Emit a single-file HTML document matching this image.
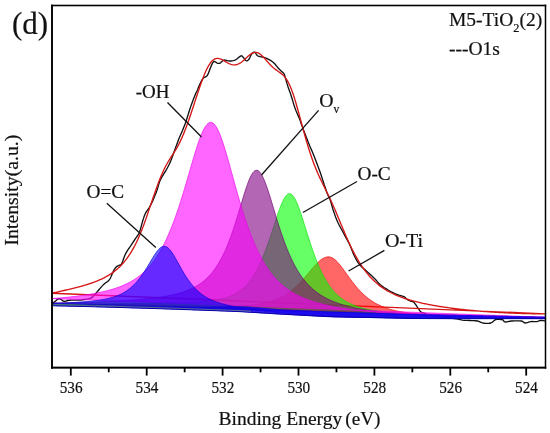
<!DOCTYPE html>
<html><head><meta charset="utf-8"><title>XPS O1s</title>
<style>html,body{margin:0;padding:0;background:#fff}body{width:550px;height:433px;position:relative;overflow:hidden;font-family:"Liberation Serif",serif}</style>
</head><body>
<svg width="550" height="433" viewBox="0 0 550 433" style="position:absolute;left:0;top:0">
<defs><clipPath id="cp"><rect x="52.0" y="5.3" width="493.4" height="362.3"/></clipPath></defs>
<g clip-path="url(#cp)" fill="none" stroke-linejoin="round">
<path d="M51.9,303.90 L52.5,303.45 L53.3,302.81 L54.2,302.08 L55.1,301.40 L55.9,300.71 L56.7,299.97 L57.5,299.32 L58.3,298.90 L59.0,298.76 L59.5,298.82 L60.1,299.02 L60.8,299.30 L61.5,299.75 L62.3,300.38 L63.1,300.96 L64.0,301.30 L64.9,301.29 L65.8,301.05 L66.7,300.74 L67.8,300.50 L69.0,300.36 L70.2,300.25 L71.5,300.16 L72.9,300.10 L74.4,300.09 L76.0,300.12 L77.7,300.15 L79.3,300.10 L80.9,299.96 L82.5,299.77 L84.1,299.54 L85.6,299.30 L87.0,299.10 L88.3,298.90 L89.5,298.63 L90.7,298.20 L91.8,297.56 L92.7,296.77 L93.6,295.89 L94.5,295.00 L95.3,294.09 L96.1,293.14 L96.9,292.16 L97.7,291.20 L98.5,290.25 L99.3,289.31 L100.1,288.36 L100.9,287.40 L101.8,286.40 L102.8,285.38 L103.7,284.39 L104.7,283.50 L105.7,282.78 L106.7,282.18 L107.6,281.56 L108.5,280.80 L109.2,279.87 L109.9,278.84 L110.5,277.71 L111.1,276.50 L111.7,275.13 L112.3,273.62 L113.0,272.12 L113.6,270.80 L114.2,269.67 L114.9,268.66 L115.5,267.76 L116.2,267.00 L117.0,266.40 L117.8,265.95 L118.7,265.57 L119.4,265.20 L120.0,265.04 L120.4,265.04 L120.9,264.78 L121.6,263.80 L122.5,261.70 L123.6,258.83 L124.7,255.81 L125.8,253.30 L126.8,251.55 L127.7,250.18 L128.6,248.92 L129.6,247.50 L130.7,245.83 L131.8,244.07 L133.0,242.27 L134.2,240.50 L135.4,238.69 L136.7,236.84 L137.9,235.09 L138.8,233.60 L139.3,232.61 L139.6,231.98 L139.8,231.26 L140.2,230.00 L140.8,227.93 L141.5,225.34 L142.2,222.63 L142.9,220.20 L143.6,218.14 L144.2,216.23 L144.9,214.46 L145.7,212.80 L146.6,211.34 L147.5,210.05 L148.5,208.76 L149.4,207.30 L150.3,205.63 L151.2,203.83 L152.2,201.92 L153.1,199.90 L154.0,197.77 L154.9,195.53 L155.9,193.18 L156.8,190.70 L157.7,188.02 L158.5,185.16 L159.4,182.29 L160.5,179.60 L161.8,177.15 L163.2,174.83 L164.6,172.58 L166.0,170.30 L167.3,168.00 L168.5,165.72 L169.6,163.43 L170.7,161.10 L171.6,158.81 L172.4,156.55 L173.3,154.16 L174.2,151.50 L175.3,148.38 L176.6,144.94 L177.9,141.47 L179.1,138.30 L180.3,135.51 L181.4,132.93 L182.5,130.49 L183.5,128.10 L184.4,125.81 L185.2,123.65 L185.9,121.49 L186.7,119.20 L187.5,116.71 L188.3,114.10 L189.1,111.49 L189.9,109.00 L190.7,106.62 L191.6,104.29 L192.4,102.10 L193.1,100.10 L193.8,98.31 L194.4,96.69 L195.0,95.26 L195.5,94.00 L195.9,93.10 L196.2,92.49 L196.6,91.84 L197.1,90.80 L197.8,89.15 L198.6,87.12 L199.5,85.03 L200.3,83.20 L201.1,81.67 L201.8,80.29 L202.6,79.09 L203.4,78.10 L204.2,77.43 L205.1,77.03 L205.9,76.69 L206.6,76.20 L207.2,75.54 L207.6,74.80 L208.1,73.96 L208.5,73.00 L209.0,71.84 L209.4,70.53 L209.9,69.18 L210.4,67.90 L210.9,66.67 L211.4,65.45 L211.9,64.33 L212.4,63.40 L212.9,62.67 L213.3,62.09 L213.8,61.69 L214.3,61.50 L214.9,61.62 L215.5,61.99 L216.2,62.45 L216.8,62.80 L217.4,63.06 L218.1,63.30 L218.8,63.44 L219.4,63.40 L220.0,63.09 L220.7,62.58 L221.3,62.01 L221.9,61.50 L222.5,61.04 L223.1,60.58 L223.7,60.20 L224.4,60.00 L225.3,60.08 L226.3,60.36 L227.3,60.68 L228.3,60.90 L229.3,60.99 L230.2,61.04 L231.2,61.01 L232.1,60.90 L233.1,60.69 L234.0,60.41 L235.0,60.04 L235.9,59.60 L236.8,59.03 L237.6,58.35 L238.4,57.67 L239.1,57.10 L239.8,56.62 L240.5,56.17 L241.1,55.87 L241.7,55.80 L242.2,56.04 L242.7,56.51 L243.1,57.11 L243.6,57.70 L244.1,58.33 L244.6,59.04 L245.0,59.70 L245.5,60.20 L246.0,60.53 L246.4,60.74 L246.9,60.81 L247.4,60.70 L247.9,60.38 L248.4,59.88 L248.9,59.23 L249.4,58.50 L249.9,57.61 L250.3,56.56 L250.8,55.50 L251.3,54.60 L251.8,53.85 L252.4,53.18 L253.0,52.65 L253.5,52.30 L254.0,52.15 L254.4,52.18 L254.9,52.37 L255.3,52.70 L255.8,53.27 L256.2,54.06 L256.7,54.87 L257.2,55.50 L257.8,55.88 L258.4,56.13 L259.0,56.31 L259.7,56.50 L260.4,56.68 L261.2,56.84 L262.0,57.00 L262.9,57.20 L263.8,57.45 L264.8,57.72 L265.7,58.03 L266.7,58.40 L267.6,58.82 L268.6,59.28 L269.5,59.80 L270.5,60.40 L271.5,61.06 L272.4,61.79 L273.4,62.60 L274.4,63.50 L275.4,64.56 L276.3,65.74 L277.3,66.93 L278.2,68.00 L279.1,68.91 L279.9,69.72 L280.7,70.48 L281.4,71.20 L282.1,71.83 L282.8,72.37 L283.4,72.95 L283.9,73.70 L284.4,74.66 L284.8,75.75 L285.1,76.94 L285.5,78.20 L285.9,79.54 L286.3,80.98 L286.7,82.45 L287.1,83.90 L287.6,85.33 L288.0,86.77 L288.5,88.20 L289.0,89.60 L289.4,90.79 L289.8,91.84 L290.3,93.12 L290.9,95.00 L291.8,97.76 L292.8,101.14 L293.9,104.71 L295.0,108.00 L296.1,110.91 L297.3,113.68 L298.5,116.38 L299.6,119.10 L300.6,121.79 L301.5,124.44 L302.5,127.14 L303.5,130.00 L304.7,133.08 L305.9,136.32 L307.2,139.62 L308.5,142.90 L309.8,146.10 L311.2,149.28 L312.6,152.52 L314.0,155.90 L315.4,159.56 L316.9,163.42 L318.3,167.22 L319.6,170.70 L320.7,173.74 L321.6,176.49 L322.4,179.12 L323.3,181.80 L324.2,184.65 L325.2,187.54 L326.1,190.32 L327.0,192.80 L327.8,194.78 L328.6,196.39 L329.4,198.01 L330.2,200.00 L331.0,202.50 L331.8,205.31 L332.6,208.23 L333.5,211.10 L334.5,213.88 L335.5,216.65 L336.6,219.42 L337.8,222.20 L339.1,224.97 L340.6,227.75 L342.1,230.53 L343.6,233.30 L345.1,236.08 L346.7,238.85 L348.2,241.63 L349.6,244.40 L350.8,247.22 L351.9,250.07 L353.0,252.86 L354.2,255.50 L355.4,257.97 L356.7,260.31 L358.1,262.55 L359.7,264.70 L361.6,266.74 L363.7,268.68 L365.9,270.55 L368.0,272.40 L370.0,274.27 L372.0,276.12 L373.9,277.89 L375.5,279.50 L376.7,280.88 L377.7,282.08 L378.7,283.24 L380.0,284.50 L381.8,285.93 L384.0,287.45 L386.3,288.94 L388.5,290.30 L390.7,291.51 L392.9,292.63 L395.0,293.64 L397.0,294.50 L398.9,295.17 L400.8,295.66 L402.4,296.10 L403.8,296.60 L404.8,297.19 L405.4,297.80 L405.9,298.41 L406.6,299.00 L407.5,299.57 L408.5,300.13 L409.5,300.65 L410.5,301.10 L411.4,301.36 L412.2,301.48 L413.0,301.69 L413.8,302.20 L414.6,303.15 L415.5,304.39 L416.4,305.73 L417.2,307.00 L418.0,308.21 L418.9,309.44 L419.7,310.58 L420.5,311.50 L421.3,312.11 L422.0,312.51 L422.8,312.82 L423.8,313.20 L425.1,313.69 L426.5,314.21 L428.1,314.72 L430.0,315.20 L432.2,315.64 L434.8,316.05 L437.4,316.44 L440.0,316.80 L442.5,317.13 L445.1,317.44 L447.6,317.72 L450.0,318.00 L452.2,318.26 L454.3,318.50 L456.3,318.74 L458.0,319.00 L459.3,319.31 L460.3,319.64 L461.3,319.96 L462.5,320.20 L464.1,320.33 L466.0,320.39 L467.9,320.43 L469.8,320.50 L471.7,320.58 L473.7,320.64 L475.6,320.76 L477.4,321.00 L478.9,321.44 L480.3,322.03 L481.7,322.61 L483.2,323.00 L485.0,323.22 L487.1,323.33 L489.1,323.28 L490.8,323.00 L492.2,322.33 L493.3,321.35 L494.3,320.37 L495.6,319.70 L497.2,319.41 L499.1,319.35 L500.9,319.46 L502.3,319.70 L503.2,320.19 L503.7,320.91 L504.2,321.60 L505.1,322.00 L506.4,321.96 L508.0,321.64 L509.8,321.26 L511.8,321.00 L514.1,320.88 L516.7,320.81 L519.3,320.84 L521.3,321.00 L522.6,321.44 L523.5,322.09 L524.2,322.69 L525.2,323.00 L526.5,322.86 L527.9,322.43 L529.4,321.93 L530.9,321.60 L532.4,321.53 L533.9,321.58 L535.3,321.64 L536.6,321.60 L537.7,321.36 L538.5,321.02 L539.4,320.69 L540.4,320.50 L541.7,320.52 L543.1,320.68 L544.5,320.87 L545.4,321.00" stroke="#111" stroke-width="1.35"/>
<path d="M52.0,293.21 L53.0,292.98 L54.0,292.75 L55.0,292.53 L56.0,292.30 L57.0,292.07 L58.0,291.85 L59.0,291.62 L60.0,291.40 L61.0,291.17 L62.0,290.95 L63.0,290.72 L64.0,290.49 L65.0,290.26 L66.0,290.03 L67.0,289.80 L68.0,289.57 L69.0,289.34 L70.0,289.10 L71.0,288.87 L72.0,288.63 L73.0,288.38 L74.0,288.14 L75.0,287.89 L76.0,287.64 L77.0,287.38 L78.0,287.12 L79.0,286.86 L80.0,286.59 L81.0,286.32 L82.0,286.04 L83.0,285.76 L84.0,285.47 L85.0,285.17 L86.0,284.87 L87.0,284.56 L88.0,284.25 L89.0,283.93 L90.0,283.59 L91.0,283.26 L92.0,282.91 L93.0,282.55 L94.0,282.18 L95.0,281.81 L96.0,281.42 L97.0,281.02 L98.0,280.61 L99.0,280.18 L100.0,279.74 L101.0,279.29 L102.0,278.82 L103.0,278.34 L104.0,277.83 L105.0,277.31 L106.0,276.77 L107.0,276.21 L108.0,275.63 L109.0,275.03 L110.0,274.40 L111.0,273.75 L112.0,273.07 L113.0,272.36 L114.0,271.62 L115.0,270.85 L116.0,270.04 L117.0,269.20 L118.0,268.32 L119.0,267.40 L120.0,266.44 L121.0,265.43 L122.0,264.38 L123.0,263.28 L124.0,262.12 L125.0,260.91 L126.0,259.65 L127.0,258.32 L128.0,256.93 L129.0,255.48 L130.0,253.96 L131.0,252.37 L132.0,250.70 L133.0,248.96 L134.0,247.14 L135.0,245.24 L136.0,243.25 L137.0,241.18 L138.0,239.02 L139.0,236.77 L140.0,234.43 L141.0,232.00 L142.0,229.48 L143.0,226.87 L144.0,224.19 L145.0,221.43 L146.0,218.61 L147.0,215.73 L148.0,212.82 L149.0,209.86 L150.0,206.89 L151.0,203.92 L152.0,200.95 L153.0,198.02 L154.0,195.11 L155.0,192.25 L156.0,189.44 L157.0,186.67 L158.0,183.96 L159.0,181.32 L160.0,178.75 L161.0,176.28 L162.0,173.91 L163.0,171.65 L164.0,169.50 L165.0,167.46 L166.0,165.54 L167.0,163.73 L168.0,162.02 L169.0,160.38 L170.0,158.79 L171.0,157.24 L172.0,155.71 L173.0,154.17 L174.0,152.61 L175.0,151.00 L176.0,149.35 L177.0,147.62 L178.0,145.81 L179.0,143.91 L180.0,141.91 L181.0,139.81 L182.0,137.60 L183.0,135.29 L184.0,132.87 L185.0,130.35 L186.0,127.73 L187.0,125.03 L188.0,122.26 L189.0,119.41 L190.0,116.50 L191.0,113.55 L192.0,110.55 L193.0,107.51 L194.0,104.46 L195.0,101.38 L196.0,98.31 L197.0,95.25 L198.0,92.22 L199.0,89.23 L200.0,86.30 L201.0,83.44 L202.0,80.66 L203.0,77.99 L204.0,75.44 L205.0,73.03 L206.0,70.77 L207.0,68.68 L208.0,66.77 L209.0,65.05 L210.0,63.52 L211.0,62.19 L212.0,61.07 L213.0,60.16 L214.0,59.44 L215.0,58.93 L216.0,58.59 L217.0,58.43 L218.0,58.43 L219.0,58.57 L220.0,58.83 L221.0,59.20 L222.0,59.65 L223.0,60.17 L224.0,60.73 L225.0,61.32 L226.0,61.91 L227.0,62.49 L228.0,63.04 L229.0,63.54 L230.0,63.98 L231.0,64.34 L232.0,64.62 L233.0,64.81 L234.0,64.89 L235.0,64.86 L236.0,64.73 L237.0,64.48 L238.0,64.13 L239.0,63.68 L240.0,63.12 L241.0,62.47 L242.0,61.74 L243.0,60.93 L244.0,60.06 L245.0,59.14 L246.0,58.20 L247.0,57.26 L248.0,56.34 L249.0,55.46 L250.0,54.65 L251.0,53.94 L252.0,53.34 L253.0,52.87 L254.0,52.55 L255.0,52.39 L256.0,52.40 L257.0,52.59 L258.0,52.93 L259.0,53.42 L260.0,54.05 L261.0,54.80 L262.0,55.68 L263.0,56.64 L264.0,57.69 L265.0,58.79 L266.0,59.93 L267.0,61.09 L268.0,62.24 L269.0,63.37 L270.0,64.46 L271.0,65.51 L272.0,66.49 L273.0,67.42 L274.0,68.28 L275.0,69.09 L276.0,69.84 L277.0,70.56 L278.0,71.25 L279.0,71.94 L280.0,72.64 L281.0,73.39 L282.0,74.21 L283.0,75.11 L284.0,76.13 L285.0,77.29 L286.0,78.62 L287.0,80.13 L288.0,81.85 L289.0,83.78 L290.0,85.94 L291.0,88.32 L292.0,90.92 L293.0,93.73 L294.0,96.73 L295.0,99.91 L296.0,103.24 L297.0,106.70 L298.0,110.26 L299.0,113.90 L300.0,117.59 L301.0,121.31 L302.0,125.03 L303.0,128.72 L304.0,132.37 L305.0,135.96 L306.0,139.47 L307.0,142.90 L308.0,146.23 L309.0,149.46 L310.0,152.57 L311.0,155.58 L312.0,158.47 L313.0,161.25 L314.0,163.93 L315.0,166.50 L316.0,168.98 L317.0,171.37 L318.0,173.69 L319.0,175.93 L320.0,178.11 L321.0,180.24 L322.0,182.32 L323.0,184.38 L324.0,186.42 L325.0,188.44 L326.0,190.46 L327.0,192.48 L328.0,194.52 L329.0,196.57 L330.0,198.65 L331.0,200.79 L332.0,202.97 L333.0,205.20 L334.0,207.47 L335.0,209.78 L336.0,212.13 L337.0,214.51 L338.0,216.90 L339.0,219.31 L340.0,221.73 L341.0,224.15 L342.0,226.56 L343.0,228.95 L344.0,231.32 L345.0,233.67 L346.0,235.98 L347.0,238.26 L348.0,240.50 L349.0,242.69 L350.0,244.83 L351.0,246.92 L352.0,248.97 L353.0,250.96 L354.0,252.89 L355.0,254.77 L356.0,256.60 L357.0,258.37 L358.0,260.08 L359.0,261.75 L360.0,263.35 L361.0,264.91 L362.0,266.41 L363.0,267.86 L364.0,269.26 L365.0,270.62 L366.0,271.92 L367.0,273.18 L368.0,274.39 L369.0,275.56 L370.0,276.69 L371.0,277.77 L372.0,278.82 L373.0,279.82 L374.0,280.79 L375.0,281.73 L376.0,282.62 L377.0,283.49 L378.0,284.32 L379.0,285.12 L380.0,285.90 L381.0,286.64 L382.0,287.36 L383.0,288.05 L384.0,288.71 L385.0,289.35 L386.0,289.97 L387.0,290.57 L388.0,291.14 L389.0,291.70 L390.0,292.23 L391.0,292.75 L392.0,293.25 L393.0,293.74 L394.0,294.20 L395.0,294.66 L396.0,295.10 L397.0,295.52 L398.0,295.93 L399.0,296.33 L400.0,296.72 L401.0,297.10 L402.0,297.46 L403.0,297.82 L404.0,298.16 L405.0,298.50 L406.0,298.83 L407.0,299.14 L408.0,299.45 L409.0,299.76 L410.0,300.05 L411.0,300.34 L412.0,300.62 L413.0,300.89 L414.0,301.16 L415.0,301.42 L416.0,301.68 L417.0,301.93 L418.0,302.17 L419.0,302.41 L420.0,302.65 L421.0,302.88 L422.0,303.10 L423.0,303.32 L424.0,303.54 L425.0,303.75 L426.0,303.95 L427.0,304.16 L428.0,304.36 L429.0,304.55 L430.0,304.74 L431.0,304.93 L432.0,305.12 L433.0,305.30 L434.0,305.48 L435.0,305.65 L436.0,305.82 L437.0,305.99 L438.0,306.16 L439.0,306.32 L440.0,306.48 L441.0,306.64 L442.0,306.79 L443.0,306.95 L444.0,307.10 L445.0,307.24 L446.0,307.39 L447.0,307.53 L448.0,307.67 L449.0,307.81 L450.0,307.94 L451.0,308.08 L452.0,308.21 L453.0,308.34 L454.0,308.47 L455.0,308.59 L456.0,308.71 L457.0,308.84 L458.0,308.95 L459.0,309.07 L460.0,309.19 L461.0,309.30 L462.0,309.41 L463.0,309.52 L464.0,309.63 L465.0,309.74 L466.0,309.84 L467.0,309.95 L468.0,310.05 L469.0,310.15 L470.0,310.25 L471.0,310.34 L472.0,310.44 L473.0,310.53 L474.0,310.63 L475.0,310.72 L476.0,310.81 L477.0,310.89 L478.0,310.98 L479.0,311.07 L480.0,311.15 L481.0,311.23 L482.0,311.31 L483.0,311.39 L484.0,311.47 L485.0,311.55 L486.0,311.62 L487.0,311.69 L488.0,311.77 L489.0,311.84 L490.0,311.91 L491.0,311.98 L492.0,312.04 L493.0,312.11 L494.0,312.18 L495.0,312.24 L496.0,312.30 L497.0,312.36 L498.0,312.42 L499.0,312.48 L500.0,312.54 L501.0,312.59 L502.0,312.65 L503.0,312.70 L504.0,312.75 L505.0,312.80 L506.0,312.85 L507.0,312.90 L508.0,312.95 L509.0,312.99 L510.0,313.04 L511.0,313.08 L512.0,313.12 L513.0,313.17 L514.0,313.20 L515.0,313.24 L516.0,313.28 L517.0,313.32 L518.0,313.35 L519.0,313.39 L520.0,313.42 L521.0,313.45 L522.0,313.48 L523.0,313.51 L524.0,313.54 L525.0,313.56 L526.0,313.59 L527.0,313.61 L528.0,313.63 L529.0,313.65 L530.0,313.67 L531.0,313.69 L532.0,313.71 L533.0,313.73 L534.0,313.74 L535.0,313.76 L536.0,313.77 L537.0,313.78 L538.0,313.79 L539.0,313.80 L540.0,313.81 L541.0,313.81 L542.0,313.82 L543.0,313.82 L544.0,313.82 L545.4,313.82Z" stroke="#d61616" stroke-width="1.35"/>
<path d="M52.0,304.68 L53.0,304.68 L54.0,304.68 L55.0,304.68 L56.0,304.68 L57.0,304.68 L58.0,304.68 L59.0,304.68 L60.0,304.68 L61.0,304.68 L62.0,304.68 L63.0,304.67 L64.0,304.67 L65.0,304.67 L66.0,304.67 L67.0,304.67 L68.0,304.67 L69.0,304.67 L70.0,304.67 L71.0,304.67 L72.0,304.67 L73.0,304.67 L74.0,304.67 L75.0,304.67 L76.0,304.67 L77.0,304.66 L78.0,304.66 L79.0,304.66 L80.0,304.66 L81.0,304.66 L82.0,304.66 L83.0,304.66 L84.0,304.66 L85.0,304.66 L86.0,304.66 L87.0,304.66 L88.0,304.66 L89.0,304.66 L90.0,304.66 L91.0,304.66 L92.0,304.66 L93.0,304.65 L94.0,304.65 L95.0,304.65 L96.0,304.65 L97.0,304.65 L98.0,304.65 L99.0,304.65 L100.0,304.65 L101.0,304.65 L102.0,304.65 L103.0,304.65 L104.0,304.65 L105.0,304.65 L106.0,304.65 L107.0,304.65 L108.0,304.65 L109.0,304.65 L110.0,304.65 L111.0,304.65 L112.0,304.65 L113.0,304.65 L114.0,304.65 L115.0,304.65 L116.0,304.65 L117.0,304.65 L118.0,304.65 L119.0,304.65 L120.0,304.66 L121.0,304.66 L122.0,304.66 L123.0,304.66 L124.0,304.66 L125.0,304.66 L126.0,304.67 L127.0,304.67 L128.0,304.67 L129.0,304.67 L130.0,304.68 L131.0,304.68 L132.0,304.68 L133.0,304.69 L134.0,304.69 L135.0,304.70 L136.0,304.70 L137.0,304.71 L138.0,304.71 L139.0,304.72 L140.0,304.72 L141.0,304.73 L142.0,304.74 L143.0,304.75 L144.0,304.75 L145.0,304.76 L146.0,304.77 L147.0,304.78 L148.0,304.79 L149.0,304.81 L150.0,304.82 L151.0,304.83 L152.0,304.84 L153.0,304.86 L154.0,304.87 L155.0,304.89 L156.0,304.91 L157.0,304.92 L158.0,304.94 L159.0,304.96 L160.0,304.98 L161.0,305.00 L162.0,305.02 L163.0,305.04 L164.0,305.06 L165.0,305.08 L166.0,305.10 L167.0,305.12 L168.0,305.14 L169.0,305.16 L170.0,305.19 L171.0,305.21 L172.0,305.23 L173.0,305.25 L174.0,305.28 L175.0,305.30 L176.0,305.32 L177.0,305.34 L178.0,305.37 L179.0,305.39 L180.0,305.41 L181.0,305.43 L182.0,305.45 L183.0,305.48 L184.0,305.50 L185.0,305.52 L186.0,305.55 L187.0,305.57 L188.0,305.59 L189.0,305.62 L190.0,305.64 L191.0,305.66 L192.0,305.69 L193.0,305.71 L194.0,305.73 L195.0,305.76 L196.0,305.78 L197.0,305.81 L198.0,305.83 L199.0,305.86 L200.0,305.88 L201.0,305.91 L202.0,305.93 L203.0,305.96 L204.0,305.98 L205.0,306.01 L206.0,306.03 L207.0,306.06 L208.0,306.08 L209.0,306.10 L210.0,306.12 L211.0,306.14 L212.0,306.17 L213.0,306.18 L214.0,306.20 L215.0,306.22 L216.0,306.24 L217.0,306.25 L218.0,306.26 L219.0,306.28 L220.0,306.29 L221.0,306.29 L222.0,306.30 L223.0,306.31 L224.0,306.31 L225.0,306.31 L226.0,306.31 L227.0,306.30 L228.0,306.30 L229.0,306.29 L230.0,306.28 L231.0,306.26 L232.0,306.25 L233.0,306.23 L234.0,306.20 L235.0,306.18 L236.0,306.15 L237.0,306.12 L238.0,306.09 L239.0,306.05 L240.0,306.01 L241.0,305.97 L242.0,305.92 L243.0,305.87 L244.0,305.81 L245.0,305.75 L246.0,305.69 L247.0,305.62 L248.0,305.54 L249.0,305.46 L250.0,305.38 L251.0,305.29 L252.0,305.19 L253.0,305.09 L254.0,304.97 L255.0,304.86 L256.0,304.73 L257.0,304.60 L258.0,304.45 L259.0,304.30 L260.0,304.14 L261.0,303.97 L262.0,303.78 L263.0,303.59 L264.0,303.38 L265.0,303.16 L266.0,302.93 L267.0,302.68 L268.0,302.42 L269.0,302.14 L270.0,301.85 L271.0,301.54 L272.0,301.21 L273.0,300.87 L274.0,300.51 L275.0,300.13 L276.0,299.73 L277.0,299.31 L278.0,298.87 L279.0,298.40 L280.0,297.92 L281.0,297.41 L282.0,296.88 L283.0,296.32 L284.0,295.74 L285.0,295.13 L286.0,294.50 L287.0,293.84 L288.0,293.15 L289.0,292.44 L290.0,291.69 L291.0,290.92 L292.0,290.12 L293.0,289.29 L294.0,288.43 L295.0,287.54 L296.0,286.62 L297.0,285.67 L298.0,284.69 L299.0,283.69 L300.0,282.66 L301.0,281.60 L302.0,280.51 L303.0,279.41 L304.0,278.28 L305.0,277.14 L306.0,275.97 L307.0,274.80 L308.0,273.61 L309.0,272.42 L310.0,271.23 L311.0,270.04 L312.0,268.86 L313.0,267.70 L314.0,266.55 L315.0,265.44 L316.0,264.36 L317.0,263.32 L318.0,262.33 L319.0,261.40 L320.0,260.54 L321.0,259.75 L322.0,259.04 L323.0,258.42 L324.0,257.90 L325.0,257.47 L326.0,257.16 L327.0,256.94 L328.0,256.85 L329.0,256.86 L330.0,257.01 L331.0,257.29 L332.0,257.71 L333.0,258.26 L334.0,258.93 L335.0,259.71 L336.0,260.60 L337.0,261.59 L338.0,262.66 L339.0,263.80 L340.0,265.02 L341.0,266.28 L342.0,267.59 L343.0,268.93 L344.0,270.30 L345.0,271.69 L346.0,273.09 L347.0,274.48 L348.0,275.88 L349.0,277.26 L350.0,278.63 L351.0,279.98 L352.0,281.31 L353.0,282.62 L354.0,283.89 L355.0,285.14 L356.0,286.35 L357.0,287.53 L358.0,288.68 L359.0,289.79 L360.0,290.87 L361.0,291.91 L362.0,292.92 L363.0,293.89 L364.0,294.83 L365.0,295.73 L366.0,296.59 L367.0,297.43 L368.0,298.23 L369.0,299.00 L370.0,299.73 L371.0,300.44 L372.0,301.12 L373.0,301.76 L374.0,302.38 L375.0,302.97 L376.0,303.54 L377.0,304.08 L378.0,304.60 L379.0,305.09 L380.0,305.56 L381.0,306.01 L382.0,306.44 L383.0,306.85 L384.0,307.24 L385.0,307.62 L386.0,307.97 L387.0,308.31 L388.0,308.64 L389.0,308.95 L390.0,309.24 L391.0,309.52 L392.0,309.79 L393.0,310.05 L394.0,310.30 L395.0,310.53 L396.0,310.76 L397.0,310.98 L398.0,311.18 L399.0,311.38 L400.0,311.57 L401.0,311.75 L402.0,311.93 L403.0,312.10 L404.0,312.26 L405.0,312.42 L406.0,312.56 L407.0,312.71 L408.0,312.85 L409.0,312.98 L410.0,313.11 L411.0,313.24 L412.0,313.36 L413.0,313.47 L414.0,313.59 L415.0,313.70 L416.0,313.80 L417.0,313.90 L418.0,314.00 L419.0,314.10 L420.0,314.19 L421.0,314.28 L422.0,314.37 L423.0,314.45 L424.0,314.54 L425.0,314.62 L426.0,314.70 L427.0,314.77 L428.0,314.85 L429.0,314.92 L430.0,314.99 L431.0,315.06 L432.0,315.12 L433.0,315.19 L434.0,315.25 L435.0,315.31 L436.0,315.37 L437.0,315.43 L438.0,315.49 L439.0,315.54 L440.0,315.60 L441.0,315.65 L442.0,315.70 L443.0,315.75 L444.0,315.80 L445.0,315.85 L446.0,315.90 L447.0,315.94 L448.0,315.99 L449.0,316.03 L450.0,316.08 L451.0,316.12 L452.0,316.16 L453.0,316.20 L454.0,316.24 L455.0,316.28 L456.0,316.32 L457.0,316.35 L458.0,316.39 L459.0,316.43 L460.0,316.46 L461.0,316.49 L462.0,316.53 L463.0,316.56 L464.0,316.59 L465.0,316.62 L466.0,316.65 L467.0,316.68 L468.0,316.71 L469.0,316.74 L470.0,316.77 L471.0,316.80 L472.0,316.83 L473.0,316.85 L474.0,316.88 L475.0,316.91 L476.0,316.93 L477.0,316.96 L478.0,316.98 L479.0,317.01 L480.0,317.03 L481.0,317.05 L482.0,317.08 L483.0,317.10 L484.0,317.12 L485.0,317.14 L486.0,317.16 L487.0,317.18 L488.0,317.20 L489.0,317.22 L490.0,317.24 L491.0,317.26 L492.0,317.28 L493.0,317.30 L494.0,317.32 L495.0,317.34 L496.0,317.36 L497.0,317.37 L498.0,317.39 L499.0,317.41 L500.0,317.43 L501.0,317.44 L502.0,317.46 L503.0,317.48 L504.0,317.49 L505.0,317.51 L506.0,317.52 L507.0,317.54 L508.0,317.55 L509.0,317.57 L510.0,317.58 L511.0,317.60 L512.0,317.61 L513.0,317.62 L514.0,317.64 L515.0,317.65 L516.0,317.66 L517.0,317.68 L518.0,317.69 L519.0,317.70 L520.0,317.71 L521.0,317.73 L522.0,317.74 L523.0,317.75 L524.0,317.76 L525.0,317.77 L526.0,317.79 L527.0,317.80 L528.0,317.81 L529.0,317.82 L530.0,317.83 L531.0,317.84 L532.0,317.85 L533.0,317.86 L534.0,317.87 L535.0,317.88 L536.0,317.89 L537.0,317.90 L538.0,317.91 L539.0,317.92 L540.0,317.93 L541.0,317.94 L542.0,317.95 L543.0,317.96 L544.0,317.97 L545.4,317.98Z" fill="rgba(255,0,0,0.6)" stroke="rgba(235,0,0,0.8)" stroke-width="0.8"/>
<path d="M52.0,304.28 L53.0,304.27 L54.0,304.27 L55.0,304.26 L56.0,304.26 L57.0,304.25 L58.0,304.25 L59.0,304.24 L60.0,304.24 L61.0,304.23 L62.0,304.23 L63.0,304.22 L64.0,304.21 L65.0,304.21 L66.0,304.20 L67.0,304.20 L68.0,304.19 L69.0,304.18 L70.0,304.18 L71.0,304.17 L72.0,304.17 L73.0,304.16 L74.0,304.15 L75.0,304.15 L76.0,304.14 L77.0,304.13 L78.0,304.13 L79.0,304.12 L80.0,304.11 L81.0,304.11 L82.0,304.10 L83.0,304.09 L84.0,304.08 L85.0,304.08 L86.0,304.07 L87.0,304.06 L88.0,304.05 L89.0,304.05 L90.0,304.04 L91.0,304.03 L92.0,304.02 L93.0,304.01 L94.0,304.01 L95.0,304.00 L96.0,303.99 L97.0,303.98 L98.0,303.97 L99.0,303.96 L100.0,303.95 L101.0,303.94 L102.0,303.93 L103.0,303.92 L104.0,303.91 L105.0,303.90 L106.0,303.89 L107.0,303.88 L108.0,303.87 L109.0,303.86 L110.0,303.85 L111.0,303.84 L112.0,303.83 L113.0,303.82 L114.0,303.81 L115.0,303.80 L116.0,303.79 L117.0,303.78 L118.0,303.77 L119.0,303.75 L120.0,303.74 L121.0,303.73 L122.0,303.72 L123.0,303.71 L124.0,303.70 L125.0,303.68 L126.0,303.67 L127.0,303.66 L128.0,303.65 L129.0,303.63 L130.0,303.62 L131.0,303.61 L132.0,303.60 L133.0,303.58 L134.0,303.57 L135.0,303.56 L136.0,303.54 L137.0,303.53 L138.0,303.52 L139.0,303.51 L140.0,303.49 L141.0,303.48 L142.0,303.47 L143.0,303.46 L144.0,303.44 L145.0,303.43 L146.0,303.42 L147.0,303.41 L148.0,303.39 L149.0,303.38 L150.0,303.37 L151.0,303.36 L152.0,303.34 L153.0,303.33 L154.0,303.32 L155.0,303.31 L156.0,303.30 L157.0,303.29 L158.0,303.27 L159.0,303.26 L160.0,303.25 L161.0,303.24 L162.0,303.22 L163.0,303.21 L164.0,303.20 L165.0,303.18 L166.0,303.17 L167.0,303.15 L168.0,303.14 L169.0,303.12 L170.0,303.10 L171.0,303.09 L172.0,303.07 L173.0,303.04 L174.0,303.02 L175.0,303.00 L176.0,302.97 L177.0,302.95 L178.0,302.92 L179.0,302.89 L180.0,302.86 L181.0,302.83 L182.0,302.80 L183.0,302.76 L184.0,302.73 L185.0,302.69 L186.0,302.65 L187.0,302.61 L188.0,302.56 L189.0,302.52 L190.0,302.47 L191.0,302.42 L192.0,302.37 L193.0,302.31 L194.0,302.26 L195.0,302.20 L196.0,302.14 L197.0,302.07 L198.0,302.01 L199.0,301.94 L200.0,301.86 L201.0,301.79 L202.0,301.71 L203.0,301.62 L204.0,301.53 L205.0,301.44 L206.0,301.34 L207.0,301.24 L208.0,301.13 L209.0,301.01 L210.0,300.89 L211.0,300.77 L212.0,300.63 L213.0,300.49 L214.0,300.34 L215.0,300.18 L216.0,300.01 L217.0,299.83 L218.0,299.65 L219.0,299.45 L220.0,299.23 L221.0,299.01 L222.0,298.77 L223.0,298.52 L224.0,298.25 L225.0,297.97 L226.0,297.66 L227.0,297.34 L228.0,297.00 L229.0,296.64 L230.0,296.25 L231.0,295.84 L232.0,295.41 L233.0,294.94 L234.0,294.45 L235.0,293.93 L236.0,293.37 L237.0,292.78 L238.0,292.15 L239.0,291.48 L240.0,290.76 L241.0,290.01 L242.0,289.20 L243.0,288.35 L244.0,287.45 L245.0,286.49 L246.0,285.47 L247.0,284.39 L248.0,283.25 L249.0,282.04 L250.0,280.77 L251.0,279.42 L252.0,278.00 L253.0,276.50 L254.0,274.92 L255.0,273.26 L256.0,271.52 L257.0,269.69 L258.0,267.77 L259.0,265.76 L260.0,263.66 L261.0,261.47 L262.0,259.19 L263.0,256.81 L264.0,254.35 L265.0,251.80 L266.0,249.16 L267.0,246.44 L268.0,243.64 L269.0,240.77 L270.0,237.83 L271.0,234.84 L272.0,231.81 L273.0,228.74 L274.0,225.66 L275.0,222.58 L276.0,219.52 L277.0,216.50 L278.0,213.55 L279.0,210.69 L280.0,207.96 L281.0,205.37 L282.0,202.97 L283.0,200.79 L284.0,198.84 L285.0,197.17 L286.0,195.80 L287.0,194.75 L288.0,194.03 L289.0,193.67 L290.0,193.67 L291.0,194.02 L292.0,194.74 L293.0,195.79 L294.0,197.18 L295.0,198.87 L296.0,200.84 L297.0,203.07 L298.0,205.52 L299.0,208.17 L300.0,210.98 L301.0,213.92 L302.0,216.97 L303.0,220.09 L304.0,223.26 L305.0,226.47 L306.0,229.68 L307.0,232.88 L308.0,236.05 L309.0,239.19 L310.0,242.27 L311.0,245.29 L312.0,248.24 L313.0,251.12 L314.0,253.91 L315.0,256.62 L316.0,259.24 L317.0,261.77 L318.0,264.21 L319.0,266.56 L320.0,268.81 L321.0,270.98 L322.0,273.05 L323.0,275.03 L324.0,276.93 L325.0,278.74 L326.0,280.46 L327.0,282.11 L328.0,283.67 L329.0,285.16 L330.0,286.58 L331.0,287.92 L332.0,289.20 L333.0,290.41 L334.0,291.56 L335.0,292.65 L336.0,293.68 L337.0,294.66 L338.0,295.59 L339.0,296.46 L340.0,297.30 L341.0,298.08 L342.0,298.83 L343.0,299.53 L344.0,300.20 L345.0,300.84 L346.0,301.44 L347.0,302.01 L348.0,302.55 L349.0,303.07 L350.0,303.55 L351.0,304.02 L352.0,304.46 L353.0,304.88 L354.0,305.29 L355.0,305.67 L356.0,306.03 L357.0,306.38 L358.0,306.72 L359.0,307.04 L360.0,307.34 L361.0,307.64 L362.0,307.92 L363.0,308.19 L364.0,308.45 L365.0,308.70 L366.0,308.94 L367.0,309.17 L368.0,309.40 L369.0,309.61 L370.0,309.82 L371.0,310.02 L372.0,310.21 L373.0,310.40 L374.0,310.58 L375.0,310.76 L376.0,310.93 L377.0,311.09 L378.0,311.25 L379.0,311.40 L380.0,311.55 L381.0,311.70 L382.0,311.84 L383.0,311.98 L384.0,312.11 L385.0,312.24 L386.0,312.36 L387.0,312.49 L388.0,312.60 L389.0,312.72 L390.0,312.83 L391.0,312.94 L392.0,313.05 L393.0,313.15 L394.0,313.25 L395.0,313.35 L396.0,313.44 L397.0,313.54 L398.0,313.63 L399.0,313.72 L400.0,313.80 L401.0,313.89 L402.0,313.97 L403.0,314.05 L404.0,314.13 L405.0,314.20 L406.0,314.28 L407.0,314.35 L408.0,314.42 L409.0,314.49 L410.0,314.56 L411.0,314.63 L412.0,314.69 L413.0,314.76 L414.0,314.82 L415.0,314.88 L416.0,314.94 L417.0,315.00 L418.0,315.05 L419.0,315.11 L420.0,315.16 L421.0,315.22 L422.0,315.27 L423.0,315.32 L424.0,315.37 L425.0,315.42 L426.0,315.47 L427.0,315.51 L428.0,315.56 L429.0,315.60 L430.0,315.65 L431.0,315.69 L432.0,315.73 L433.0,315.78 L434.0,315.82 L435.0,315.86 L436.0,315.90 L437.0,315.94 L438.0,315.97 L439.0,316.01 L440.0,316.05 L441.0,316.08 L442.0,316.12 L443.0,316.15 L444.0,316.19 L445.0,316.22 L446.0,316.25 L447.0,316.29 L448.0,316.32 L449.0,316.35 L450.0,316.38 L451.0,316.41 L452.0,316.44 L453.0,316.47 L454.0,316.50 L455.0,316.52 L456.0,316.55 L457.0,316.58 L458.0,316.60 L459.0,316.63 L460.0,316.66 L461.0,316.68 L462.0,316.71 L463.0,316.73 L464.0,316.76 L465.0,316.78 L466.0,316.80 L467.0,316.83 L468.0,316.85 L469.0,316.87 L470.0,316.89 L471.0,316.91 L472.0,316.94 L473.0,316.96 L474.0,316.98 L475.0,317.00 L476.0,317.02 L477.0,317.04 L478.0,317.06 L479.0,317.08 L480.0,317.10 L481.0,317.11 L482.0,317.13 L483.0,317.15 L484.0,317.17 L485.0,317.19 L486.0,317.20 L487.0,317.22 L488.0,317.24 L489.0,317.25 L490.0,317.27 L491.0,317.29 L492.0,317.30 L493.0,317.32 L494.0,317.33 L495.0,317.35 L496.0,317.36 L497.0,317.38 L498.0,317.39 L499.0,317.41 L500.0,317.42 L501.0,317.44 L502.0,317.45 L503.0,317.46 L504.0,317.48 L505.0,317.49 L506.0,317.50 L507.0,317.52 L508.0,317.53 L509.0,317.54 L510.0,317.56 L511.0,317.57 L512.0,317.58 L513.0,317.59 L514.0,317.60 L515.0,317.62 L516.0,317.63 L517.0,317.64 L518.0,317.65 L519.0,317.66 L520.0,317.67 L521.0,317.68 L522.0,317.69 L523.0,317.70 L524.0,317.72 L525.0,317.73 L526.0,317.74 L527.0,317.75 L528.0,317.76 L529.0,317.77 L530.0,317.78 L531.0,317.79 L532.0,317.80 L533.0,317.81 L534.0,317.81 L535.0,317.82 L536.0,317.83 L537.0,317.84 L538.0,317.85 L539.0,317.86 L540.0,317.87 L541.0,317.88 L542.0,317.89 L543.0,317.89 L544.0,317.90 L545.4,317.91Z" fill="rgba(0,255,0,0.6)" stroke="rgba(0,225,0,0.8)" stroke-width="0.8"/>
<path d="M52.0,303.06 L53.0,303.04 L54.0,303.02 L55.0,303.00 L56.0,302.98 L57.0,302.97 L58.0,302.95 L59.0,302.93 L60.0,302.91 L61.0,302.89 L62.0,302.87 L63.0,302.84 L64.0,302.82 L65.0,302.80 L66.0,302.78 L67.0,302.76 L68.0,302.74 L69.0,302.71 L70.0,302.69 L71.0,302.67 L72.0,302.64 L73.0,302.62 L74.0,302.59 L75.0,302.57 L76.0,302.54 L77.0,302.51 L78.0,302.49 L79.0,302.46 L80.0,302.43 L81.0,302.41 L82.0,302.38 L83.0,302.35 L84.0,302.32 L85.0,302.29 L86.0,302.26 L87.0,302.23 L88.0,302.20 L89.0,302.16 L90.0,302.13 L91.0,302.10 L92.0,302.06 L93.0,302.03 L94.0,301.99 L95.0,301.96 L96.0,301.92 L97.0,301.88 L98.0,301.85 L99.0,301.81 L100.0,301.77 L101.0,301.73 L102.0,301.69 L103.0,301.65 L104.0,301.61 L105.0,301.56 L106.0,301.52 L107.0,301.47 L108.0,301.43 L109.0,301.38 L110.0,301.33 L111.0,301.29 L112.0,301.24 L113.0,301.19 L114.0,301.14 L115.0,301.08 L116.0,301.03 L117.0,300.98 L118.0,300.92 L119.0,300.87 L120.0,300.81 L121.0,300.75 L122.0,300.69 L123.0,300.63 L124.0,300.57 L125.0,300.50 L126.0,300.44 L127.0,300.37 L128.0,300.30 L129.0,300.23 L130.0,300.16 L131.0,300.09 L132.0,300.02 L133.0,299.94 L134.0,299.87 L135.0,299.79 L136.0,299.71 L137.0,299.63 L138.0,299.54 L139.0,299.46 L140.0,299.37 L141.0,299.28 L142.0,299.19 L143.0,299.10 L144.0,299.00 L145.0,298.90 L146.0,298.80 L147.0,298.70 L148.0,298.60 L149.0,298.49 L150.0,298.38 L151.0,298.27 L152.0,298.16 L153.0,298.04 L154.0,297.92 L155.0,297.79 L156.0,297.66 L157.0,297.53 L158.0,297.40 L159.0,297.26 L160.0,297.12 L161.0,296.97 L162.0,296.82 L163.0,296.66 L164.0,296.50 L165.0,296.34 L166.0,296.16 L167.0,295.99 L168.0,295.80 L169.0,295.61 L170.0,295.42 L171.0,295.21 L172.0,295.00 L173.0,294.78 L174.0,294.55 L175.0,294.31 L176.0,294.07 L177.0,293.81 L178.0,293.55 L179.0,293.27 L180.0,292.98 L181.0,292.69 L182.0,292.38 L183.0,292.05 L184.0,291.72 L185.0,291.37 L186.0,291.00 L187.0,290.62 L188.0,290.23 L189.0,289.81 L190.0,289.38 L191.0,288.93 L192.0,288.46 L193.0,287.97 L194.0,287.46 L195.0,286.92 L196.0,286.36 L197.0,285.77 L198.0,285.16 L199.0,284.51 L200.0,283.84 L201.0,283.13 L202.0,282.39 L203.0,281.62 L204.0,280.81 L205.0,279.95 L206.0,279.06 L207.0,278.12 L208.0,277.14 L209.0,276.10 L210.0,275.02 L211.0,273.88 L212.0,272.69 L213.0,271.44 L214.0,270.13 L215.0,268.75 L216.0,267.31 L217.0,265.80 L218.0,264.21 L219.0,262.56 L220.0,260.82 L221.0,259.00 L222.0,257.10 L223.0,255.12 L224.0,253.05 L225.0,250.89 L226.0,248.63 L227.0,246.28 L228.0,243.84 L229.0,241.31 L230.0,238.68 L231.0,235.95 L232.0,233.14 L233.0,230.23 L234.0,227.24 L235.0,224.17 L236.0,221.02 L237.0,217.81 L238.0,214.54 L239.0,211.23 L240.0,207.89 L241.0,204.54 L242.0,201.20 L243.0,197.88 L244.0,194.62 L245.0,191.44 L246.0,188.37 L247.0,185.43 L248.0,182.67 L249.0,180.11 L250.0,177.78 L251.0,175.71 L252.0,173.94 L253.0,172.49 L254.0,171.38 L255.0,170.63 L256.0,170.25 L257.0,170.25 L258.0,170.60 L259.0,171.30 L260.0,172.33 L261.0,173.68 L262.0,175.33 L263.0,177.27 L264.0,179.46 L265.0,181.89 L266.0,184.52 L267.0,187.33 L268.0,190.29 L269.0,193.38 L270.0,196.56 L271.0,199.81 L272.0,203.11 L273.0,206.44 L274.0,209.78 L275.0,213.11 L276.0,216.42 L277.0,219.69 L278.0,222.91 L279.0,226.08 L280.0,229.19 L281.0,232.22 L282.0,235.17 L283.0,238.05 L284.0,240.84 L285.0,243.55 L286.0,246.18 L287.0,248.71 L288.0,251.16 L289.0,253.53 L290.0,255.81 L291.0,258.00 L292.0,260.12 L293.0,262.15 L294.0,264.11 L295.0,265.98 L296.0,267.79 L297.0,269.52 L298.0,271.18 L299.0,272.78 L300.0,274.31 L301.0,275.78 L302.0,277.18 L303.0,278.53 L304.0,279.83 L305.0,281.07 L306.0,282.25 L307.0,283.39 L308.0,284.49 L309.0,285.53 L310.0,286.54 L311.0,287.50 L312.0,288.43 L313.0,289.31 L314.0,290.16 L315.0,290.98 L316.0,291.76 L317.0,292.52 L318.0,293.24 L319.0,293.94 L320.0,294.61 L321.0,295.25 L322.0,295.87 L323.0,296.47 L324.0,297.04 L325.0,297.59 L326.0,298.13 L327.0,298.64 L328.0,299.14 L329.0,299.61 L330.0,300.08 L331.0,300.52 L332.0,300.95 L333.0,301.37 L334.0,301.77 L335.0,302.16 L336.0,302.54 L337.0,302.90 L338.0,303.25 L339.0,303.59 L340.0,303.92 L341.0,304.24 L342.0,304.55 L343.0,304.85 L344.0,305.15 L345.0,305.43 L346.0,305.70 L347.0,305.97 L348.0,306.23 L349.0,306.48 L350.0,306.72 L351.0,306.96 L352.0,307.19 L353.0,307.41 L354.0,307.63 L355.0,307.84 L356.0,308.04 L357.0,308.24 L358.0,308.44 L359.0,308.63 L360.0,308.81 L361.0,308.99 L362.0,309.16 L363.0,309.33 L364.0,309.50 L365.0,309.66 L366.0,309.82 L367.0,309.97 L368.0,310.12 L369.0,310.27 L370.0,310.41 L371.0,310.55 L372.0,310.68 L373.0,310.81 L374.0,310.94 L375.0,311.07 L376.0,311.19 L377.0,311.31 L378.0,311.43 L379.0,311.54 L380.0,311.66 L381.0,311.77 L382.0,311.87 L383.0,311.98 L384.0,312.08 L385.0,312.18 L386.0,312.28 L387.0,312.37 L388.0,312.47 L389.0,312.56 L390.0,312.65 L391.0,312.74 L392.0,312.82 L393.0,312.91 L394.0,312.99 L395.0,313.07 L396.0,313.15 L397.0,313.23 L398.0,313.31 L399.0,313.38 L400.0,313.45 L401.0,313.53 L402.0,313.60 L403.0,313.66 L404.0,313.73 L405.0,313.80 L406.0,313.86 L407.0,313.93 L408.0,313.99 L409.0,314.05 L410.0,314.11 L411.0,314.17 L412.0,314.23 L413.0,314.29 L414.0,314.34 L415.0,314.40 L416.0,314.45 L417.0,314.51 L418.0,314.56 L419.0,314.61 L420.0,314.66 L421.0,314.71 L422.0,314.76 L423.0,314.81 L424.0,314.86 L425.0,314.90 L426.0,314.95 L427.0,314.99 L428.0,315.04 L429.0,315.08 L430.0,315.12 L431.0,315.16 L432.0,315.21 L433.0,315.25 L434.0,315.29 L435.0,315.33 L436.0,315.36 L437.0,315.40 L438.0,315.44 L439.0,315.48 L440.0,315.51 L441.0,315.55 L442.0,315.59 L443.0,315.62 L444.0,315.65 L445.0,315.69 L446.0,315.72 L447.0,315.75 L448.0,315.79 L449.0,315.82 L450.0,315.85 L451.0,315.88 L452.0,315.91 L453.0,315.94 L454.0,315.97 L455.0,316.00 L456.0,316.03 L457.0,316.06 L458.0,316.08 L459.0,316.11 L460.0,316.14 L461.0,316.17 L462.0,316.19 L463.0,316.22 L464.0,316.24 L465.0,316.27 L466.0,316.29 L467.0,316.32 L468.0,316.34 L469.0,316.37 L470.0,316.39 L471.0,316.41 L472.0,316.44 L473.0,316.46 L474.0,316.48 L475.0,316.50 L476.0,316.53 L477.0,316.55 L478.0,316.57 L479.0,316.59 L480.0,316.61 L481.0,316.63 L482.0,316.65 L483.0,316.67 L484.0,316.69 L485.0,316.71 L486.0,316.73 L487.0,316.75 L488.0,316.77 L489.0,316.79 L490.0,316.80 L491.0,316.82 L492.0,316.84 L493.0,316.86 L494.0,316.88 L495.0,316.89 L496.0,316.91 L497.0,316.93 L498.0,316.94 L499.0,316.96 L500.0,316.98 L501.0,316.99 L502.0,317.01 L503.0,317.02 L504.0,317.04 L505.0,317.05 L506.0,317.07 L507.0,317.08 L508.0,317.10 L509.0,317.11 L510.0,317.13 L511.0,317.14 L512.0,317.16 L513.0,317.17 L514.0,317.18 L515.0,317.20 L516.0,317.21 L517.0,317.23 L518.0,317.24 L519.0,317.25 L520.0,317.26 L521.0,317.28 L522.0,317.29 L523.0,317.30 L524.0,317.32 L525.0,317.33 L526.0,317.34 L527.0,317.35 L528.0,317.36 L529.0,317.38 L530.0,317.39 L531.0,317.40 L532.0,317.41 L533.0,317.42 L534.0,317.43 L535.0,317.44 L536.0,317.45 L537.0,317.47 L538.0,317.48 L539.0,317.49 L540.0,317.50 L541.0,317.51 L542.0,317.52 L543.0,317.53 L544.0,317.54 L545.4,317.55Z" fill="rgba(128,0,128,0.6)" stroke="rgba(110,0,110,0.8)" stroke-width="0.8"/>
<path d="M52.0,298.57 L53.0,298.50 L54.0,298.42 L55.0,298.34 L56.0,298.25 L57.0,298.17 L58.0,298.08 L59.0,298.00 L60.0,297.91 L61.0,297.82 L62.0,297.73 L63.0,297.63 L64.0,297.54 L65.0,297.44 L66.0,297.34 L67.0,297.24 L68.0,297.14 L69.0,297.03 L70.0,296.92 L71.0,296.81 L72.0,296.70 L73.0,296.59 L74.0,296.47 L75.0,296.35 L76.0,296.23 L77.0,296.11 L78.0,295.98 L79.0,295.85 L80.0,295.72 L81.0,295.58 L82.0,295.45 L83.0,295.31 L84.0,295.16 L85.0,295.01 L86.0,294.86 L87.0,294.71 L88.0,294.55 L89.0,294.39 L90.0,294.23 L91.0,294.06 L92.0,293.89 L93.0,293.71 L94.0,293.53 L95.0,293.34 L96.0,293.15 L97.0,292.96 L98.0,292.76 L99.0,292.55 L100.0,292.34 L101.0,292.13 L102.0,291.91 L103.0,291.68 L104.0,291.44 L105.0,291.20 L106.0,290.96 L107.0,290.70 L108.0,290.44 L109.0,290.18 L110.0,289.90 L111.0,289.62 L112.0,289.32 L113.0,289.02 L114.0,288.71 L115.0,288.39 L116.0,288.06 L117.0,287.72 L118.0,287.37 L119.0,287.00 L120.0,286.63 L121.0,286.24 L122.0,285.84 L123.0,285.42 L124.0,284.99 L125.0,284.55 L126.0,284.09 L127.0,283.61 L128.0,283.11 L129.0,282.60 L130.0,282.07 L131.0,281.51 L132.0,280.94 L133.0,280.34 L134.0,279.73 L135.0,279.08 L136.0,278.42 L137.0,277.72 L138.0,277.00 L139.0,276.25 L140.0,275.47 L141.0,274.66 L142.0,273.82 L143.0,272.94 L144.0,272.03 L145.0,271.08 L146.0,270.09 L147.0,269.06 L148.0,268.00 L149.0,266.89 L150.0,265.73 L151.0,264.53 L152.0,263.29 L153.0,261.99 L154.0,260.64 L155.0,259.24 L156.0,257.79 L157.0,256.28 L158.0,254.72 L159.0,253.10 L160.0,251.41 L161.0,249.67 L162.0,247.86 L163.0,245.98 L164.0,244.04 L165.0,242.04 L166.0,239.96 L167.0,237.81 L168.0,235.60 L169.0,233.31 L170.0,230.95 L171.0,228.51 L172.0,226.01 L173.0,223.42 L174.0,220.77 L175.0,218.04 L176.0,215.24 L177.0,212.37 L178.0,209.43 L179.0,206.42 L180.0,203.34 L181.0,200.20 L182.0,197.00 L183.0,193.75 L184.0,190.44 L185.0,187.09 L186.0,183.71 L187.0,180.29 L188.0,176.84 L189.0,173.38 L190.0,169.92 L191.0,166.46 L192.0,163.02 L193.0,159.62 L194.0,156.26 L195.0,152.96 L196.0,149.73 L197.0,146.60 L198.0,143.59 L199.0,140.70 L200.0,137.96 L201.0,135.39 L202.0,133.00 L203.0,130.81 L204.0,128.84 L205.0,127.11 L206.0,125.63 L207.0,124.42 L208.0,123.47 L209.0,122.81 L210.0,122.45 L211.0,122.37 L212.0,122.59 L213.0,123.12 L214.0,123.94 L215.0,125.06 L216.0,126.46 L217.0,128.12 L218.0,130.05 L219.0,132.21 L220.0,134.60 L221.0,137.19 L222.0,139.96 L223.0,142.91 L224.0,146.00 L225.0,149.22 L226.0,152.56 L227.0,155.98 L228.0,159.48 L229.0,163.03 L230.0,166.63 L231.0,170.25 L232.0,173.89 L233.0,177.53 L234.0,181.17 L235.0,184.78 L236.0,188.36 L237.0,191.91 L238.0,195.42 L239.0,198.87 L240.0,202.28 L241.0,205.62 L242.0,208.90 L243.0,212.11 L244.0,215.25 L245.0,218.32 L246.0,221.32 L247.0,224.25 L248.0,227.10 L249.0,229.87 L250.0,232.57 L251.0,235.19 L252.0,237.74 L253.0,240.21 L254.0,242.61 L255.0,244.93 L256.0,247.18 L257.0,249.36 L258.0,251.47 L259.0,253.51 L260.0,255.48 L261.0,257.39 L262.0,259.22 L263.0,261.00 L264.0,262.71 L265.0,264.37 L266.0,265.96 L267.0,267.50 L268.0,268.98 L269.0,270.41 L270.0,271.79 L271.0,273.11 L272.0,274.39 L273.0,275.62 L274.0,276.81 L275.0,277.95 L276.0,279.05 L277.0,280.11 L278.0,281.13 L279.0,282.12 L280.0,283.07 L281.0,283.98 L282.0,284.86 L283.0,285.71 L284.0,286.53 L285.0,287.32 L286.0,288.09 L287.0,288.82 L288.0,289.54 L289.0,290.22 L290.0,290.89 L291.0,291.53 L292.0,292.15 L293.0,292.74 L294.0,293.32 L295.0,293.88 L296.0,294.42 L297.0,294.95 L298.0,295.46 L299.0,295.95 L300.0,296.42 L301.0,296.88 L302.0,297.33 L303.0,297.76 L304.0,298.18 L305.0,298.59 L306.0,298.98 L307.0,299.37 L308.0,299.74 L309.0,300.10 L310.0,300.46 L311.0,300.80 L312.0,301.13 L313.0,301.46 L314.0,301.77 L315.0,302.08 L316.0,302.38 L317.0,302.67 L318.0,302.96 L319.0,303.23 L320.0,303.51 L321.0,303.77 L322.0,304.03 L323.0,304.28 L324.0,304.53 L325.0,304.77 L326.0,305.00 L327.0,305.23 L328.0,305.46 L329.0,305.68 L330.0,305.89 L331.0,306.10 L332.0,306.31 L333.0,306.51 L334.0,306.71 L335.0,306.90 L336.0,307.09 L337.0,307.27 L338.0,307.45 L339.0,307.63 L340.0,307.80 L341.0,307.97 L342.0,308.13 L343.0,308.29 L344.0,308.45 L345.0,308.60 L346.0,308.75 L347.0,308.90 L348.0,309.05 L349.0,309.19 L350.0,309.33 L351.0,309.46 L352.0,309.59 L353.0,309.72 L354.0,309.85 L355.0,309.98 L356.0,310.10 L357.0,310.22 L358.0,310.33 L359.0,310.45 L360.0,310.56 L361.0,310.67 L362.0,310.78 L363.0,310.88 L364.0,310.99 L365.0,311.09 L366.0,311.19 L367.0,311.28 L368.0,311.38 L369.0,311.47 L370.0,311.57 L371.0,311.66 L372.0,311.75 L373.0,311.83 L374.0,311.92 L375.0,312.00 L376.0,312.08 L377.0,312.16 L378.0,312.24 L379.0,312.32 L380.0,312.40 L381.0,312.47 L382.0,312.55 L383.0,312.62 L384.0,312.69 L385.0,312.76 L386.0,312.83 L387.0,312.90 L388.0,312.96 L389.0,313.03 L390.0,313.09 L391.0,313.16 L392.0,313.22 L393.0,313.28 L394.0,313.34 L395.0,313.40 L396.0,313.46 L397.0,313.52 L398.0,313.57 L399.0,313.63 L400.0,313.69 L401.0,313.74 L402.0,313.79 L403.0,313.84 L404.0,313.90 L405.0,313.95 L406.0,314.00 L407.0,314.05 L408.0,314.10 L409.0,314.14 L410.0,314.19 L411.0,314.24 L412.0,314.28 L413.0,314.33 L414.0,314.37 L415.0,314.42 L416.0,314.46 L417.0,314.50 L418.0,314.54 L419.0,314.59 L420.0,314.63 L421.0,314.67 L422.0,314.71 L423.0,314.75 L424.0,314.79 L425.0,314.82 L426.0,314.86 L427.0,314.90 L428.0,314.93 L429.0,314.97 L430.0,315.01 L431.0,315.04 L432.0,315.08 L433.0,315.11 L434.0,315.15 L435.0,315.18 L436.0,315.21 L437.0,315.24 L438.0,315.28 L439.0,315.31 L440.0,315.34 L441.0,315.37 L442.0,315.40 L443.0,315.43 L444.0,315.46 L445.0,315.49 L446.0,315.52 L447.0,315.55 L448.0,315.58 L449.0,315.60 L450.0,315.63 L451.0,315.66 L452.0,315.69 L453.0,315.71 L454.0,315.74 L455.0,315.77 L456.0,315.79 L457.0,315.82 L458.0,315.84 L459.0,315.87 L460.0,315.89 L461.0,315.92 L462.0,315.94 L463.0,315.96 L464.0,315.99 L465.0,316.01 L466.0,316.03 L467.0,316.06 L468.0,316.08 L469.0,316.10 L470.0,316.12 L471.0,316.15 L472.0,316.17 L473.0,316.19 L474.0,316.21 L475.0,316.23 L476.0,316.25 L477.0,316.27 L478.0,316.29 L479.0,316.31 L480.0,316.33 L481.0,316.35 L482.0,316.37 L483.0,316.39 L484.0,316.41 L485.0,316.43 L486.0,316.44 L487.0,316.46 L488.0,316.48 L489.0,316.50 L490.0,316.52 L491.0,316.53 L492.0,316.55 L493.0,316.57 L494.0,316.58 L495.0,316.60 L496.0,316.62 L497.0,316.63 L498.0,316.65 L499.0,316.67 L500.0,316.68 L501.0,316.70 L502.0,316.71 L503.0,316.73 L504.0,316.75 L505.0,316.76 L506.0,316.78 L507.0,316.79 L508.0,316.81 L509.0,316.82 L510.0,316.83 L511.0,316.85 L512.0,316.86 L513.0,316.88 L514.0,316.89 L515.0,316.91 L516.0,316.92 L517.0,316.93 L518.0,316.95 L519.0,316.96 L520.0,316.97 L521.0,316.99 L522.0,317.00 L523.0,317.01 L524.0,317.02 L525.0,317.04 L526.0,317.05 L527.0,317.06 L528.0,317.07 L529.0,317.09 L530.0,317.10 L531.0,317.11 L532.0,317.12 L533.0,317.13 L534.0,317.14 L535.0,317.16 L536.0,317.17 L537.0,317.18 L538.0,317.19 L539.0,317.20 L540.0,317.21 L541.0,317.22 L542.0,317.23 L543.0,317.24 L544.0,317.26 L545.4,317.27Z" fill="rgba(255,0,255,0.6)" stroke="rgba(235,0,235,0.8)" stroke-width="0.8"/>
<path d="M52.0,303.35 L53.0,303.32 L54.0,303.29 L55.0,303.26 L56.0,303.23 L57.0,303.20 L58.0,303.16 L59.0,303.13 L60.0,303.09 L61.0,303.05 L62.0,303.01 L63.0,302.98 L64.0,302.93 L65.0,302.89 L66.0,302.85 L67.0,302.80 L68.0,302.76 L69.0,302.71 L70.0,302.66 L71.0,302.61 L72.0,302.56 L73.0,302.51 L74.0,302.45 L75.0,302.39 L76.0,302.33 L77.0,302.27 L78.0,302.21 L79.0,302.14 L80.0,302.08 L81.0,302.01 L82.0,301.94 L83.0,301.86 L84.0,301.78 L85.0,301.70 L86.0,301.62 L87.0,301.53 L88.0,301.44 L89.0,301.35 L90.0,301.25 L91.0,301.15 L92.0,301.05 L93.0,300.94 L94.0,300.82 L95.0,300.70 L96.0,300.58 L97.0,300.45 L98.0,300.31 L99.0,300.17 L100.0,300.02 L101.0,299.87 L102.0,299.70 L103.0,299.53 L104.0,299.35 L105.0,299.16 L106.0,298.96 L107.0,298.75 L108.0,298.52 L109.0,298.29 L110.0,298.04 L111.0,297.78 L112.0,297.50 L113.0,297.20 L114.0,296.89 L115.0,296.56 L116.0,296.21 L117.0,295.84 L118.0,295.44 L119.0,295.02 L120.0,294.58 L121.0,294.10 L122.0,293.60 L123.0,293.07 L124.0,292.50 L125.0,291.91 L126.0,291.27 L127.0,290.60 L128.0,289.89 L129.0,289.13 L130.0,288.34 L131.0,287.50 L132.0,286.61 L133.0,285.68 L134.0,284.70 L135.0,283.66 L136.0,282.58 L137.0,281.44 L138.0,280.25 L139.0,279.01 L140.0,277.71 L141.0,276.36 L142.0,274.96 L143.0,273.51 L144.0,272.01 L145.0,270.47 L146.0,268.89 L147.0,267.27 L148.0,265.62 L149.0,263.96 L150.0,262.28 L151.0,260.60 L152.0,258.94 L153.0,257.30 L154.0,255.71 L155.0,254.17 L156.0,252.72 L157.0,251.37 L158.0,250.14 L159.0,249.05 L160.0,248.11 L161.0,247.36 L162.0,246.79 L163.0,246.43 L164.0,246.28 L165.0,246.34 L166.0,246.63 L167.0,247.15 L168.0,247.87 L169.0,248.80 L170.0,249.90 L171.0,251.17 L172.0,252.58 L173.0,254.10 L174.0,255.72 L175.0,257.42 L176.0,259.17 L177.0,260.95 L178.0,262.76 L179.0,264.56 L180.0,266.37 L181.0,268.15 L182.0,269.90 L183.0,271.62 L184.0,273.29 L185.0,274.92 L186.0,276.50 L187.0,278.03 L188.0,279.50 L189.0,280.91 L190.0,282.27 L191.0,283.57 L192.0,284.82 L193.0,286.01 L194.0,287.14 L195.0,288.23 L196.0,289.26 L197.0,290.24 L198.0,291.17 L199.0,292.06 L200.0,292.90 L201.0,293.70 L202.0,294.46 L203.0,295.18 L204.0,295.86 L205.0,296.51 L206.0,297.13 L207.0,297.71 L208.0,298.26 L209.0,298.79 L210.0,299.29 L211.0,299.76 L212.0,300.22 L213.0,300.65 L214.0,301.06 L215.0,301.45 L216.0,301.82 L217.0,302.18 L218.0,302.52 L219.0,302.84 L220.0,303.16 L221.0,303.46 L222.0,303.74 L223.0,304.02 L224.0,304.29 L225.0,304.55 L226.0,304.79 L227.0,305.03 L228.0,305.26 L229.0,305.49 L230.0,305.70 L231.0,305.92 L232.0,306.12 L233.0,306.32 L234.0,306.51 L235.0,306.70 L236.0,306.89 L237.0,307.07 L238.0,307.24 L239.0,307.41 L240.0,307.58 L241.0,307.75 L242.0,307.91 L243.0,308.07 L244.0,308.23 L245.0,308.38 L246.0,308.53 L247.0,308.68 L248.0,308.83 L249.0,308.98 L250.0,309.12 L251.0,309.26 L252.0,309.40 L253.0,309.54 L254.0,309.68 L255.0,309.81 L256.0,309.95 L257.0,310.08 L258.0,310.21 L259.0,310.34 L260.0,310.47 L261.0,310.59 L262.0,310.72 L263.0,310.84 L264.0,310.96 L265.0,311.08 L266.0,311.20 L267.0,311.31 L268.0,311.43 L269.0,311.54 L270.0,311.65 L271.0,311.76 L272.0,311.87 L273.0,311.98 L274.0,312.09 L275.0,312.20 L276.0,312.30 L277.0,312.40 L278.0,312.51 L279.0,312.61 L280.0,312.71 L281.0,312.81 L282.0,312.91 L283.0,313.01 L284.0,313.11 L285.0,313.20 L286.0,313.30 L287.0,313.39 L288.0,313.49 L289.0,313.58 L290.0,313.67 L291.0,313.76 L292.0,313.85 L293.0,313.94 L294.0,314.03 L295.0,314.11 L296.0,314.20 L297.0,314.28 L298.0,314.36 L299.0,314.44 L300.0,314.52 L301.0,314.60 L302.0,314.68 L303.0,314.75 L304.0,314.82 L305.0,314.90 L306.0,314.97 L307.0,315.04 L308.0,315.10 L309.0,315.17 L310.0,315.24 L311.0,315.30 L312.0,315.36 L313.0,315.42 L314.0,315.48 L315.0,315.54 L316.0,315.60 L317.0,315.66 L318.0,315.72 L319.0,315.77 L320.0,315.83 L321.0,315.88 L322.0,315.93 L323.0,315.99 L324.0,316.04 L325.0,316.09 L326.0,316.14 L327.0,316.19 L328.0,316.24 L329.0,316.28 L330.0,316.33 L331.0,316.37 L332.0,316.42 L333.0,316.46 L334.0,316.51 L335.0,316.55 L336.0,316.59 L337.0,316.63 L338.0,316.67 L339.0,316.71 L340.0,316.75 L341.0,316.79 L342.0,316.82 L343.0,316.86 L344.0,316.89 L345.0,316.93 L346.0,316.96 L347.0,316.99 L348.0,317.02 L349.0,317.05 L350.0,317.08 L351.0,317.11 L352.0,317.14 L353.0,317.17 L354.0,317.20 L355.0,317.22 L356.0,317.25 L357.0,317.27 L358.0,317.30 L359.0,317.32 L360.0,317.34 L361.0,317.37 L362.0,317.39 L363.0,317.41 L364.0,317.43 L365.0,317.45 L366.0,317.47 L367.0,317.49 L368.0,317.51 L369.0,317.53 L370.0,317.55 L371.0,317.56 L372.0,317.58 L373.0,317.60 L374.0,317.61 L375.0,317.63 L376.0,317.65 L377.0,317.66 L378.0,317.68 L379.0,317.69 L380.0,317.71 L381.0,317.72 L382.0,317.73 L383.0,317.75 L384.0,317.76 L385.0,317.77 L386.0,317.79 L387.0,317.80 L388.0,317.81 L389.0,317.82 L390.0,317.84 L391.0,317.85 L392.0,317.86 L393.0,317.87 L394.0,317.88 L395.0,317.89 L396.0,317.90 L397.0,317.91 L398.0,317.92 L399.0,317.93 L400.0,317.94 L401.0,317.95 L402.0,317.96 L403.0,317.97 L404.0,317.98 L405.0,317.99 L406.0,318.00 L407.0,318.01 L408.0,318.02 L409.0,318.03 L410.0,318.04 L411.0,318.05 L412.0,318.05 L413.0,318.06 L414.0,318.07 L415.0,318.08 L416.0,318.09 L417.0,318.10 L418.0,318.10 L419.0,318.11 L420.0,318.12 L421.0,318.13 L422.0,318.13 L423.0,318.14 L424.0,318.15 L425.0,318.15 L426.0,318.16 L427.0,318.17 L428.0,318.18 L429.0,318.18 L430.0,318.19 L431.0,318.20 L432.0,318.20 L433.0,318.21 L434.0,318.21 L435.0,318.22 L436.0,318.23 L437.0,318.23 L438.0,318.24 L439.0,318.25 L440.0,318.25 L441.0,318.26 L442.0,318.26 L443.0,318.27 L444.0,318.27 L445.0,318.28 L446.0,318.29 L447.0,318.29 L448.0,318.30 L449.0,318.30 L450.0,318.31 L451.0,318.31 L452.0,318.32 L453.0,318.32 L454.0,318.33 L455.0,318.33 L456.0,318.34 L457.0,318.34 L458.0,318.35 L459.0,318.35 L460.0,318.36 L461.0,318.36 L462.0,318.37 L463.0,318.37 L464.0,318.38 L465.0,318.38 L466.0,318.38 L467.0,318.39 L468.0,318.39 L469.0,318.40 L470.0,318.40 L471.0,318.41 L472.0,318.41 L473.0,318.41 L474.0,318.42 L475.0,318.42 L476.0,318.43 L477.0,318.43 L478.0,318.43 L479.0,318.44 L480.0,318.44 L481.0,318.45 L482.0,318.45 L483.0,318.45 L484.0,318.46 L485.0,318.46 L486.0,318.46 L487.0,318.47 L488.0,318.47 L489.0,318.48 L490.0,318.48 L491.0,318.48 L492.0,318.49 L493.0,318.49 L494.0,318.49 L495.0,318.50 L496.0,318.50 L497.0,318.50 L498.0,318.51 L499.0,318.51 L500.0,318.51 L501.0,318.52 L502.0,318.52 L503.0,318.52 L504.0,318.53 L505.0,318.53 L506.0,318.53 L507.0,318.53 L508.0,318.54 L509.0,318.54 L510.0,318.54 L511.0,318.55 L512.0,318.55 L513.0,318.55 L514.0,318.56 L515.0,318.56 L516.0,318.56 L517.0,318.56 L518.0,318.57 L519.0,318.57 L520.0,318.57 L521.0,318.58 L522.0,318.58 L523.0,318.58 L524.0,318.58 L525.0,318.59 L526.0,318.59 L527.0,318.59 L528.0,318.59 L529.0,318.60 L530.0,318.60 L531.0,318.60 L532.0,318.60 L533.0,318.61 L534.0,318.61 L535.0,318.61 L536.0,318.61 L537.0,318.62 L538.0,318.62 L539.0,318.62 L540.0,318.62 L541.0,318.63 L542.0,318.63 L543.0,318.63 L544.0,318.63 L545.4,318.63Z" fill="rgba(0,0,255,0.6)" stroke="rgba(0,0,215,0.8)" stroke-width="0.8"/>
<path d="M52.0,304.33 L53.0,304.34 L54.0,304.36 L55.0,304.37 L56.0,304.38 L57.0,304.40 L58.0,304.41 L59.0,304.43 L60.0,304.45 L61.0,304.47 L62.0,304.49 L63.0,304.51 L64.0,304.52 L65.0,304.54 L66.0,304.56 L67.0,304.58 L68.0,304.60 L69.0,304.62 L70.0,304.64 L71.0,304.66 L72.0,304.68 L73.0,304.69 L74.0,304.71 L75.0,304.73 L76.0,304.75 L77.0,304.77 L78.0,304.79 L79.0,304.81 L80.0,304.82 L81.0,304.84 L82.0,304.86 L83.0,304.88 L84.0,304.90 L85.0,304.92 L86.0,304.94 L87.0,304.96 L88.0,304.98 L89.0,304.99 L90.0,305.01 L91.0,305.03 L92.0,305.05 L93.0,305.07 L94.0,305.09 L95.0,305.11 L96.0,305.13 L97.0,305.15 L98.0,305.17 L99.0,305.19 L100.0,305.21 L101.0,305.23 L102.0,305.25 L103.0,305.27 L104.0,305.30 L105.0,305.32 L106.0,305.34 L107.0,305.36 L108.0,305.39 L109.0,305.41 L110.0,305.43 L111.0,305.46 L112.0,305.48 L113.0,305.50 L114.0,305.53 L115.0,305.55 L116.0,305.57 L117.0,305.60 L118.0,305.62 L119.0,305.64 L120.0,305.67 L121.0,305.69 L122.0,305.71 L123.0,305.74 L124.0,305.76 L125.0,305.78 L126.0,305.81 L127.0,305.83 L128.0,305.85 L129.0,305.88 L130.0,305.90 L131.0,305.92 L132.0,305.95 L133.0,305.97 L134.0,305.99 L135.0,306.02 L136.0,306.04 L137.0,306.06 L138.0,306.09 L139.0,306.11 L140.0,306.13 L141.0,306.16 L142.0,306.18 L143.0,306.20 L144.0,306.23 L145.0,306.25 L146.0,306.27 L147.0,306.30 L148.0,306.32 L149.0,306.34 L150.0,306.37 L151.0,306.39 L152.0,306.41 L153.0,306.44 L154.0,306.46 L155.0,306.48 L156.0,306.50 L157.0,306.52 L158.0,306.54 L159.0,306.55 L160.0,306.57 L161.0,306.59 L162.0,306.60 L163.0,306.61 L164.0,306.62 L165.0,306.63 L166.0,306.64 L167.0,306.65 L168.0,306.66 L169.0,306.67 L170.0,306.68 L171.0,306.68 L172.0,306.69 L173.0,306.70 L174.0,306.70 L175.0,306.71 L176.0,306.72 L177.0,306.73 L178.0,306.74 L179.0,306.74 L180.0,306.75 L181.0,306.76 L182.0,306.77 L183.0,306.77 L184.0,306.78 L185.0,306.79 L186.0,306.80 L187.0,306.80 L188.0,306.81 L189.0,306.82 L190.0,306.83 L191.0,306.83 L192.0,306.84 L193.0,306.85 L194.0,306.85 L195.0,306.86 L196.0,306.86 L197.0,306.86 L198.0,306.85 L199.0,306.85 L200.0,306.84 L201.0,306.84 L202.0,306.82 L203.0,306.81 L204.0,306.80 L205.0,306.78 L206.0,306.76 L207.0,306.74 L208.0,306.72 L209.0,306.70 L210.0,306.67 L211.0,306.65 L212.0,306.63 L213.0,306.61 L214.0,306.58 L215.0,306.56 L216.0,306.54 L217.0,306.52 L218.0,306.49 L219.0,306.47 L220.0,306.45 L221.0,306.43 L222.0,306.40 L223.0,306.38 L224.0,306.36 L225.0,306.34 L226.0,306.31 L227.0,306.29 L228.0,306.27 L229.0,306.25 L230.0,306.22 L231.0,306.20 L232.0,306.18 L233.0,306.16 L234.0,306.14 L235.0,306.13 L236.0,306.13 L237.0,306.13 L238.0,306.14 L239.0,306.16 L240.0,306.18 L241.0,306.21 L242.0,306.25 L243.0,306.29 L244.0,306.34 L245.0,306.39 L246.0,306.46 L247.0,306.52 L248.0,306.60 L249.0,306.68 L250.0,306.75 L251.0,306.83 L252.0,306.90 L253.0,306.97 L254.0,307.05 L255.0,307.13 L256.0,307.21 L257.0,307.28 L258.0,307.36 L259.0,307.45 L260.0,307.53 L261.0,307.61 L262.0,307.69 L263.0,307.78 L264.0,307.87 L265.0,307.95 L266.0,308.04 L267.0,308.13 L268.0,308.22 L269.0,308.31 L270.0,308.40 L271.0,308.49 L272.0,308.58 L273.0,308.67 L274.0,308.76 L275.0,308.84 L276.0,308.92 L277.0,309.00 L278.0,309.08 L279.0,309.15 L280.0,309.22 L281.0,309.29 L282.0,309.35 L283.0,309.42 L284.0,309.48 L285.0,309.53 L286.0,309.59 L287.0,309.64 L288.0,309.68 L289.0,309.73 L290.0,309.78 L291.0,309.83 L292.0,309.88 L293.0,309.92 L294.0,309.97 L295.0,310.02 L296.0,310.07 L297.0,310.12 L298.0,310.16 L299.0,310.21 L300.0,310.26 L301.0,310.31 L302.0,310.36 L303.0,310.40 L304.0,310.45 L305.0,310.50 L306.0,310.55 L307.0,310.60 L308.0,310.64 L309.0,310.69 L310.0,310.74 L311.0,310.79 L312.0,310.84 L313.0,310.88 L314.0,310.93 L315.0,310.98 L316.0,311.03 L317.0,311.08 L318.0,311.12 L319.0,311.17 L320.0,311.22 L321.0,311.27 L322.0,311.32 L323.0,311.36 L324.0,311.41 L325.0,311.46 L326.0,311.50 L327.0,311.54 L328.0,311.58 L329.0,311.62 L330.0,311.66 L331.0,311.70 L332.0,311.73 L333.0,311.76 L334.0,311.80 L335.0,311.83 L336.0,311.85 L337.0,311.88 L338.0,311.91 L339.0,311.93 L340.0,311.96 L341.0,311.99 L342.0,312.01 L343.0,312.04 L344.0,312.06 L345.0,312.09 L346.0,312.12 L347.0,312.14 L348.0,312.17 L349.0,312.19 L350.0,312.22 L351.0,312.25 L352.0,312.27 L353.0,312.30 L354.0,312.32 L355.0,312.35 L356.0,312.38 L357.0,312.40 L358.0,312.43 L359.0,312.45 L360.0,312.48 L361.0,312.51 L362.0,312.53 L363.0,312.56 L364.0,312.58 L365.0,312.61 L366.0,312.64 L367.0,312.66 L368.0,312.69 L369.0,312.71 L370.0,312.74 L371.0,312.77 L372.0,312.79 L373.0,312.82 L374.0,312.84 L375.0,312.87 L376.0,312.90 L377.0,312.93 L378.0,312.96 L379.0,312.99 L380.0,313.03 L381.0,313.06 L382.0,313.09 L383.0,313.13 L384.0,313.17 L385.0,313.20 L386.0,313.24 L387.0,313.28 L388.0,313.32 L389.0,313.36 L390.0,313.40 L391.0,313.44 L392.0,313.48 L393.0,313.52 L394.0,313.56 L395.0,313.60 L396.0,313.64 L397.0,313.68 L398.0,313.72 L399.0,313.76 L400.0,313.80 L401.0,313.84 L402.0,313.88 L403.0,313.92 L404.0,313.96 L405.0,313.99 L406.0,314.03 L407.0,314.06 L408.0,314.09 L409.0,314.12 L410.0,314.15 L411.0,314.18 L412.0,314.20 L413.0,314.22 L414.0,314.25 L415.0,314.26 L416.0,314.28 L417.0,314.30 L418.0,314.31 L419.0,314.33 L420.0,314.34 L421.0,314.35 L422.0,314.37 L423.0,314.38 L424.0,314.40 L425.0,314.41 L426.0,314.42 L427.0,314.44 L428.0,314.45 L429.0,314.47 L430.0,314.48 L431.0,314.49 L432.0,314.51 L433.0,314.52 L434.0,314.54 L435.0,314.55 L436.0,314.56 L437.0,314.58 L438.0,314.59 L439.0,314.61 L440.0,314.62 L441.0,314.63 L442.0,314.65 L443.0,314.66 L444.0,314.68 L445.0,314.69 L446.0,314.70 L447.0,314.72 L448.0,314.73 L449.0,314.75 L450.0,314.76 L451.0,314.77 L452.0,314.79 L453.0,314.80 L454.0,314.82 L455.0,314.83 L456.0,314.85 L457.0,314.86 L458.0,314.88 L459.0,314.89 L460.0,314.91 L461.0,314.93 L462.0,314.95 L463.0,314.96 L464.0,314.98 L465.0,315.00 L466.0,315.02 L467.0,315.04 L468.0,315.06 L469.0,315.08 L470.0,315.10 L471.0,315.12 L472.0,315.14 L473.0,315.16 L474.0,315.18 L475.0,315.20 L476.0,315.22 L477.0,315.24 L478.0,315.26 L479.0,315.28 L480.0,315.30 L481.0,315.32 L482.0,315.34 L483.0,315.36 L484.0,315.38 L485.0,315.40 L486.0,315.42 L487.0,315.44 L488.0,315.46 L489.0,315.48 L490.0,315.50 L491.0,315.52 L492.0,315.54 L493.0,315.56 L494.0,315.58 L495.0,315.60 L496.0,315.62 L497.0,315.64 L498.0,315.66 L499.0,315.68 L500.0,315.70 L501.0,315.72 L502.0,315.74 L503.0,315.76 L504.0,315.78 L505.0,315.80 L506.0,315.82 L507.0,315.84 L508.0,315.86 L509.0,315.88 L510.0,315.90 L511.0,315.92 L512.0,315.94 L513.0,315.96 L514.0,315.97 L515.0,315.99 L516.0,316.01 L517.0,316.03 L518.0,316.05 L519.0,316.07 L520.0,316.09 L521.0,316.11 L522.0,316.13 L523.0,316.15 L524.0,316.17 L525.0,316.19 L526.0,316.21 L527.0,316.23 L528.0,316.25 L529.0,316.27 L530.0,316.29 L531.0,316.31 L532.0,316.33 L533.0,316.35 L534.0,316.37 L535.0,316.39 L536.0,316.41 L537.0,316.43 L538.0,316.45 L539.0,316.47 L540.0,316.49 L541.0,316.51 L542.0,316.52 L543.0,316.54 L544.0,316.55 L545.4,316.56 L545.4,318.90 L544.0,318.90 L543.0,318.90 L542.0,318.90 L541.0,318.91 L540.0,318.91 L539.0,318.91 L538.0,318.91 L537.0,318.91 L536.0,318.91 L535.0,318.91 L534.0,318.91 L533.0,318.91 L532.0,318.92 L531.0,318.92 L530.0,318.92 L529.0,318.92 L528.0,318.92 L527.0,318.92 L526.0,318.92 L525.0,318.92 L524.0,318.93 L523.0,318.93 L522.0,318.93 L521.0,318.93 L520.0,318.93 L519.0,318.93 L518.0,318.93 L517.0,318.93 L516.0,318.93 L515.0,318.94 L514.0,318.94 L513.0,318.94 L512.0,318.94 L511.0,318.94 L510.0,318.94 L509.0,318.94 L508.0,318.94 L507.0,318.94 L506.0,318.95 L505.0,318.95 L504.0,318.95 L503.0,318.95 L502.0,318.95 L501.0,318.95 L500.0,318.95 L499.0,318.95 L498.0,318.96 L497.0,318.96 L496.0,318.96 L495.0,318.96 L494.0,318.96 L493.0,318.96 L492.0,318.96 L491.0,318.96 L490.0,318.96 L489.0,318.97 L488.0,318.97 L487.0,318.97 L486.0,318.97 L485.0,318.97 L484.0,318.97 L483.0,318.97 L482.0,318.97 L481.0,318.98 L480.0,318.98 L479.0,318.98 L478.0,318.98 L477.0,318.98 L476.0,318.98 L475.0,318.98 L474.0,318.98 L473.0,318.98 L472.0,318.99 L471.0,318.99 L470.0,318.99 L469.0,318.99 L468.0,318.99 L467.0,318.99 L466.0,318.99 L465.0,318.99 L464.0,318.99 L463.0,318.99 L462.0,318.99 L461.0,318.99 L460.0,318.99 L459.0,318.99 L458.0,318.99 L457.0,318.98 L456.0,318.98 L455.0,318.98 L454.0,318.98 L453.0,318.97 L452.0,318.97 L451.0,318.96 L450.0,318.96 L449.0,318.96 L448.0,318.95 L447.0,318.95 L446.0,318.94 L445.0,318.94 L444.0,318.94 L443.0,318.93 L442.0,318.93 L441.0,318.92 L440.0,318.92 L439.0,318.92 L438.0,318.91 L437.0,318.91 L436.0,318.90 L435.0,318.90 L434.0,318.90 L433.0,318.89 L432.0,318.89 L431.0,318.88 L430.0,318.88 L429.0,318.88 L428.0,318.87 L427.0,318.87 L426.0,318.86 L425.0,318.86 L424.0,318.86 L423.0,318.85 L422.0,318.85 L421.0,318.84 L420.0,318.84 L419.0,318.84 L418.0,318.83 L417.0,318.83 L416.0,318.82 L415.0,318.82 L414.0,318.81 L413.0,318.80 L412.0,318.79 L411.0,318.77 L410.0,318.76 L409.0,318.74 L408.0,318.72 L407.0,318.70 L406.0,318.68 L405.0,318.66 L404.0,318.64 L403.0,318.61 L402.0,318.59 L401.0,318.56 L400.0,318.53 L399.0,318.51 L398.0,318.48 L397.0,318.45 L396.0,318.43 L395.0,318.40 L394.0,318.37 L393.0,318.35 L392.0,318.32 L391.0,318.29 L390.0,318.27 L389.0,318.24 L388.0,318.21 L387.0,318.19 L386.0,318.16 L385.0,318.14 L384.0,318.11 L383.0,318.09 L382.0,318.06 L381.0,318.04 L380.0,318.02 L379.0,317.99 L378.0,317.97 L377.0,317.95 L376.0,317.93 L375.0,317.91 L374.0,317.89 L373.0,317.87 L372.0,317.86 L371.0,317.84 L370.0,317.82 L369.0,317.80 L368.0,317.78 L367.0,317.77 L366.0,317.75 L365.0,317.73 L364.0,317.71 L363.0,317.69 L362.0,317.68 L361.0,317.66 L360.0,317.64 L359.0,317.62 L358.0,317.60 L357.0,317.59 L356.0,317.57 L355.0,317.55 L354.0,317.53 L353.0,317.51 L352.0,317.50 L351.0,317.48 L350.0,317.46 L349.0,317.44 L348.0,317.42 L347.0,317.41 L346.0,317.39 L345.0,317.37 L344.0,317.35 L343.0,317.33 L342.0,317.32 L341.0,317.30 L340.0,317.28 L339.0,317.26 L338.0,317.24 L337.0,317.23 L336.0,317.21 L335.0,317.18 L334.0,317.16 L333.0,317.13 L332.0,317.10 L331.0,317.07 L330.0,317.03 L329.0,317.00 L328.0,316.96 L327.0,316.91 L326.0,316.87 L325.0,316.82 L324.0,316.77 L323.0,316.72 L322.0,316.67 L321.0,316.61 L320.0,316.56 L319.0,316.51 L318.0,316.45 L317.0,316.40 L316.0,316.34 L315.0,316.29 L314.0,316.24 L313.0,316.18 L312.0,316.13 L311.0,316.07 L310.0,316.02 L309.0,315.97 L308.0,315.91 L307.0,315.86 L306.0,315.80 L305.0,315.75 L304.0,315.70 L303.0,315.64 L302.0,315.59 L301.0,315.53 L300.0,315.48 L299.0,315.43 L298.0,315.37 L297.0,315.32 L296.0,315.26 L295.0,315.21 L294.0,315.16 L293.0,315.10 L292.0,315.05 L291.0,314.99 L290.0,314.94 L289.0,314.89 L288.0,314.83 L287.0,314.78 L286.0,314.72 L285.0,314.67 L284.0,314.61 L283.0,314.56 L282.0,314.50 L281.0,314.44 L280.0,314.38 L279.0,314.33 L278.0,314.27 L277.0,314.21 L276.0,314.15 L275.0,314.09 L274.0,314.02 L273.0,313.96 L272.0,313.90 L271.0,313.84 L270.0,313.77 L269.0,313.71 L268.0,313.65 L267.0,313.59 L266.0,313.52 L265.0,313.46 L264.0,313.40 L263.0,313.34 L262.0,313.28 L261.0,313.21 L260.0,313.15 L259.0,313.09 L258.0,313.02 L257.0,312.96 L256.0,312.90 L255.0,312.84 L254.0,312.77 L253.0,312.71 L252.0,312.65 L251.0,312.59 L250.0,312.53 L249.0,312.46 L248.0,312.40 L247.0,312.34 L246.0,312.28 L245.0,312.22 L244.0,312.16 L243.0,312.10 L242.0,312.05 L241.0,312.00 L240.0,311.95 L239.0,311.90 L238.0,311.85 L237.0,311.80 L236.0,311.76 L235.0,311.72 L234.0,311.68 L233.0,311.64 L232.0,311.60 L231.0,311.56 L230.0,311.53 L229.0,311.49 L228.0,311.45 L227.0,311.41 L226.0,311.37 L225.0,311.34 L224.0,311.30 L223.0,311.26 L222.0,311.22 L221.0,311.19 L220.0,311.15 L219.0,311.11 L218.0,311.07 L217.0,311.04 L216.0,311.00 L215.0,310.96 L214.0,310.92 L213.0,310.89 L212.0,310.85 L211.0,310.81 L210.0,310.77 L209.0,310.74 L208.0,310.70 L207.0,310.66 L206.0,310.63 L205.0,310.59 L204.0,310.55 L203.0,310.51 L202.0,310.48 L201.0,310.44 L200.0,310.40 L199.0,310.37 L198.0,310.33 L197.0,310.30 L196.0,310.26 L195.0,310.23 L194.0,310.19 L193.0,310.15 L192.0,310.12 L191.0,310.09 L190.0,310.05 L189.0,310.01 L188.0,309.98 L187.0,309.94 L186.0,309.91 L185.0,309.87 L184.0,309.84 L183.0,309.81 L182.0,309.77 L181.0,309.74 L180.0,309.70 L179.0,309.67 L178.0,309.63 L177.0,309.60 L176.0,309.56 L175.0,309.52 L174.0,309.49 L173.0,309.45 L172.0,309.42 L171.0,309.38 L170.0,309.35 L169.0,309.32 L168.0,309.28 L167.0,309.25 L166.0,309.21 L165.0,309.18 L164.0,309.14 L163.0,309.11 L162.0,309.08 L161.0,309.04 L160.0,309.01 L159.0,308.98 L158.0,308.95 L157.0,308.91 L156.0,308.88 L155.0,308.85 L154.0,308.82 L153.0,308.79 L152.0,308.76 L151.0,308.73 L150.0,308.70 L149.0,308.67 L148.0,308.64 L147.0,308.61 L146.0,308.58 L145.0,308.55 L144.0,308.52 L143.0,308.49 L142.0,308.46 L141.0,308.43 L140.0,308.40 L139.0,308.37 L138.0,308.34 L137.0,308.31 L136.0,308.28 L135.0,308.25 L134.0,308.22 L133.0,308.19 L132.0,308.16 L131.0,308.13 L130.0,308.10 L129.0,308.07 L128.0,308.04 L127.0,308.01 L126.0,307.98 L125.0,307.95 L124.0,307.92 L123.0,307.89 L122.0,307.86 L121.0,307.83 L120.0,307.80 L119.0,307.77 L118.0,307.74 L117.0,307.71 L116.0,307.68 L115.0,307.65 L114.0,307.62 L113.0,307.59 L112.0,307.56 L111.0,307.53 L110.0,307.50 L109.0,307.47 L108.0,307.44 L107.0,307.41 L106.0,307.38 L105.0,307.35 L104.0,307.32 L103.0,307.29 L102.0,307.26 L101.0,307.24 L100.0,307.21 L99.0,307.18 L98.0,307.15 L97.0,307.13 L96.0,307.10 L95.0,307.08 L94.0,307.05 L93.0,307.03 L92.0,307.00 L91.0,306.98 L90.0,306.95 L89.0,306.93 L88.0,306.90 L87.0,306.88 L86.0,306.85 L85.0,306.82 L84.0,306.80 L83.0,306.77 L82.0,306.75 L81.0,306.72 L80.0,306.70 L79.0,306.67 L78.0,306.65 L77.0,306.62 L76.0,306.60 L75.0,306.57 L74.0,306.55 L73.0,306.52 L72.0,306.50 L71.0,306.48 L70.0,306.45 L69.0,306.43 L68.0,306.40 L67.0,306.38 L66.0,306.35 L65.0,306.33 L64.0,306.30 L63.0,306.27 L62.0,306.25 L61.0,306.22 L60.0,306.20 L59.0,306.18 L58.0,306.15 L57.0,306.13 L56.0,306.11 L55.0,306.09 L54.0,306.08 L53.0,306.06 L52.0,306.05Z" fill="rgba(22,0,235,0.88)" stroke="none"/>
<path d="M52.0,305.75 L53.0,305.76 L54.0,305.78 L55.0,305.79 L56.0,305.81 L57.0,305.83 L58.0,305.85 L59.0,305.88 L60.0,305.90 L61.0,305.92 L62.0,305.95 L63.0,305.97 L64.0,306.00 L65.0,306.03 L66.0,306.05 L67.0,306.08 L68.0,306.10 L69.0,306.12 L70.0,306.15 L71.0,306.18 L72.0,306.20 L73.0,306.22 L74.0,306.25 L75.0,306.27 L76.0,306.30 L77.0,306.32 L78.0,306.35 L79.0,306.37 L80.0,306.40 L81.0,306.42 L82.0,306.45 L83.0,306.47 L84.0,306.50 L85.0,306.52 L86.0,306.55 L87.0,306.57 L88.0,306.60 L89.0,306.63 L90.0,306.65 L91.0,306.68 L92.0,306.70 L93.0,306.73 L94.0,306.75 L95.0,306.78 L96.0,306.80 L97.0,306.83 L98.0,306.85 L99.0,306.88 L100.0,306.91 L101.0,306.94 L102.0,306.96 L103.0,306.99 L104.0,307.02 L105.0,307.05 L106.0,307.08 L107.0,307.11 L108.0,307.14 L109.0,307.17 L110.0,307.20 L111.0,307.23 L112.0,307.26 L113.0,307.29 L114.0,307.32 L115.0,307.35 L116.0,307.38 L117.0,307.41 L118.0,307.44 L119.0,307.47 L120.0,307.50 L121.0,307.53 L122.0,307.56 L123.0,307.59 L124.0,307.62 L125.0,307.65 L126.0,307.68 L127.0,307.71 L128.0,307.74 L129.0,307.77 L130.0,307.80 L131.0,307.83 L132.0,307.86 L133.0,307.89 L134.0,307.92 L135.0,307.95 L136.0,307.98 L137.0,308.01 L138.0,308.04 L139.0,308.07 L140.0,308.10 L141.0,308.13 L142.0,308.16 L143.0,308.19 L144.0,308.22 L145.0,308.25 L146.0,308.28 L147.0,308.31 L148.0,308.34 L149.0,308.37 L150.0,308.40 L151.0,308.43 L152.0,308.46 L153.0,308.49 L154.0,308.52 L155.0,308.55 L156.0,308.58 L157.0,308.61 L158.0,308.65 L159.0,308.68 L160.0,308.71 L161.0,308.74 L162.0,308.78 L163.0,308.81 L164.0,308.84 L165.0,308.88 L166.0,308.91 L167.0,308.94 L168.0,308.98 L169.0,309.02 L170.0,309.05 L171.0,309.08 L172.0,309.12 L173.0,309.15 L174.0,309.19 L175.0,309.22 L176.0,309.26 L177.0,309.30 L178.0,309.33 L179.0,309.37 L180.0,309.40 L181.0,309.44 L182.0,309.47 L183.0,309.50 L184.0,309.54 L185.0,309.57 L186.0,309.61 L187.0,309.64 L188.0,309.68 L189.0,309.71 L190.0,309.75 L191.0,309.79 L192.0,309.82 L193.0,309.85 L194.0,309.89 L195.0,309.93 L196.0,309.96 L197.0,310.00 L198.0,310.03 L199.0,310.07 L200.0,310.10 L201.0,310.14 L202.0,310.18 L203.0,310.21 L204.0,310.25 L205.0,310.29 L206.0,310.33 L207.0,310.36 L208.0,310.40 L209.0,310.44 L210.0,310.47 L211.0,310.51 L212.0,310.55 L213.0,310.59 L214.0,310.62 L215.0,310.66 L216.0,310.70 L217.0,310.74 L218.0,310.77 L219.0,310.81 L220.0,310.85 L221.0,310.89 L222.0,310.92 L223.0,310.96 L224.0,311.00 L225.0,311.04 L226.0,311.07 L227.0,311.11 L228.0,311.15 L229.0,311.19 L230.0,311.23 L231.0,311.26 L232.0,311.30 L233.0,311.34 L234.0,311.38 L235.0,311.42 L236.0,311.46 L237.0,311.50 L238.0,311.55 L239.0,311.60 L240.0,311.65 L241.0,311.70 L242.0,311.75 L243.0,311.80 L244.0,311.86 L245.0,311.92 L246.0,311.98 L247.0,312.04 L248.0,312.10 L249.0,312.16 L250.0,312.23 L251.0,312.29 L252.0,312.35 L253.0,312.41 L254.0,312.47 L255.0,312.54 L256.0,312.60 L257.0,312.66 L258.0,312.72 L259.0,312.79 L260.0,312.85 L261.0,312.91 L262.0,312.98 L263.0,313.04 L264.0,313.10 L265.0,313.16 L266.0,313.22 L267.0,313.29 L268.0,313.35 L269.0,313.41 L270.0,313.47 L271.0,313.54 L272.0,313.60 L273.0,313.66 L274.0,313.72 L275.0,313.79 L276.0,313.85 L277.0,313.91 L278.0,313.97 L279.0,314.03 L280.0,314.08 L281.0,314.14 L282.0,314.20 L283.0,314.26 L284.0,314.31 L285.0,314.37 L286.0,314.42 L287.0,314.48 L288.0,314.53 L289.0,314.59 L290.0,314.64 L291.0,314.69 L292.0,314.75 L293.0,314.80 L294.0,314.86 L295.0,314.91 L296.0,314.96 L297.0,315.02 L298.0,315.07 L299.0,315.13 L300.0,315.18 L301.0,315.23 L302.0,315.29 L303.0,315.34 L304.0,315.40 L305.0,315.45 L306.0,315.50 L307.0,315.56 L308.0,315.61 L309.0,315.67 L310.0,315.72 L311.0,315.77 L312.0,315.83 L313.0,315.88 L314.0,315.94 L315.0,315.99 L316.0,316.04 L317.0,316.10 L318.0,316.15 L319.0,316.21 L320.0,316.26 L321.0,316.31 L322.0,316.37 L323.0,316.42 L324.0,316.47 L325.0,316.52 L326.0,316.57 L327.0,316.61 L328.0,316.66 L329.0,316.70 L330.0,316.73 L331.0,316.77 L332.0,316.80 L333.0,316.83 L334.0,316.86 L335.0,316.88 L336.0,316.91 L337.0,316.93 L338.0,316.94 L339.0,316.96 L340.0,316.98 L341.0,317.00 L342.0,317.02 L343.0,317.03 L344.0,317.05 L345.0,317.07 L346.0,317.09 L347.0,317.11 L348.0,317.12 L349.0,317.14 L350.0,317.16 L351.0,317.18 L352.0,317.20 L353.0,317.21 L354.0,317.23 L355.0,317.25 L356.0,317.27 L357.0,317.29 L358.0,317.30 L359.0,317.32 L360.0,317.34 L361.0,317.36 L362.0,317.38 L363.0,317.39 L364.0,317.41 L365.0,317.43 L366.0,317.45 L367.0,317.47 L368.0,317.48 L369.0,317.50 L370.0,317.52 L371.0,317.54 L372.0,317.56 L373.0,317.57 L374.0,317.59 L375.0,317.61 L376.0,317.63 L377.0,317.65 L378.0,317.67 L379.0,317.69 L380.0,317.72 L381.0,317.74 L382.0,317.76 L383.0,317.79 L384.0,317.81 L385.0,317.84 L386.0,317.86 L387.0,317.89 L388.0,317.91 L389.0,317.94 L390.0,317.97 L391.0,317.99 L392.0,318.02 L393.0,318.05 L394.0,318.07 L395.0,318.10 L396.0,318.13 L397.0,318.15 L398.0,318.18 L399.0,318.21 L400.0,318.23 L401.0,318.26 L402.0,318.29 L403.0,318.31 L404.0,318.34 L405.0,318.36 L406.0,318.38 L407.0,318.40 L408.0,318.42 L409.0,318.44 L410.0,318.46 L411.0,318.47 L412.0,318.49 L413.0,318.50 L414.0,318.51 L415.0,318.52 L416.0,318.52 L417.0,318.53 L418.0,318.53 L419.0,318.54 L420.0,318.54 L421.0,318.54 L422.0,318.55 L423.0,318.55 L424.0,318.56 L425.0,318.56 L426.0,318.56 L427.0,318.57 L428.0,318.57 L429.0,318.58 L430.0,318.58 L431.0,318.58 L432.0,318.59 L433.0,318.59 L434.0,318.60 L435.0,318.60 L436.0,318.60 L437.0,318.61 L438.0,318.61 L439.0,318.62 L440.0,318.62 L441.0,318.62 L442.0,318.63 L443.0,318.63 L444.0,318.64 L445.0,318.64 L446.0,318.64 L447.0,318.65 L448.0,318.65 L449.0,318.66 L450.0,318.66 L451.0,318.66 L452.0,318.67 L453.0,318.67 L454.0,318.68 L455.0,318.68 L456.0,318.68 L457.0,318.68 L458.0,318.69 L459.0,318.69 L460.0,318.69 L461.0,318.69 L462.0,318.69 L463.0,318.69 L464.0,318.69 L465.0,318.69 L466.0,318.69 L467.0,318.69 L468.0,318.69 L469.0,318.69 L470.0,318.69 L471.0,318.69 L472.0,318.69 L473.0,318.68 L474.0,318.68 L475.0,318.68 L476.0,318.68 L477.0,318.68 L478.0,318.68 L479.0,318.68 L480.0,318.68 L481.0,318.68 L482.0,318.67 L483.0,318.67 L484.0,318.67 L485.0,318.67 L486.0,318.67 L487.0,318.67 L488.0,318.67 L489.0,318.67 L490.0,318.66 L491.0,318.66 L492.0,318.66 L493.0,318.66 L494.0,318.66 L495.0,318.66 L496.0,318.66 L497.0,318.66 L498.0,318.66 L499.0,318.65 L500.0,318.65 L501.0,318.65 L502.0,318.65 L503.0,318.65 L504.0,318.65 L505.0,318.65 L506.0,318.65 L507.0,318.64 L508.0,318.64 L509.0,318.64 L510.0,318.64 L511.0,318.64 L512.0,318.64 L513.0,318.64 L514.0,318.64 L515.0,318.64 L516.0,318.63 L517.0,318.63 L518.0,318.63 L519.0,318.63 L520.0,318.63 L521.0,318.63 L522.0,318.63 L523.0,318.63 L524.0,318.63 L525.0,318.62 L526.0,318.62 L527.0,318.62 L528.0,318.62 L529.0,318.62 L530.0,318.62 L531.0,318.62 L532.0,318.62 L533.0,318.61 L534.0,318.61 L535.0,318.61 L536.0,318.61 L537.0,318.61 L538.0,318.61 L539.0,318.61 L540.0,318.61 L541.0,318.61 L542.0,318.60 L543.0,318.60 L544.0,318.60 L545.4,318.60" stroke="#0a00a8" stroke-width="1"/>
<path d="M52.0,304.75 L53.0,304.76 L54.0,304.78 L55.0,304.79 L56.0,304.81 L57.0,304.83 L58.0,304.85 L59.0,304.88 L60.0,304.90 L61.0,304.92 L62.0,304.95 L63.0,304.97 L64.0,305.00 L65.0,305.03 L66.0,305.05 L67.0,305.08 L68.0,305.10 L69.0,305.12 L70.0,305.15 L71.0,305.18 L72.0,305.20 L73.0,305.22 L74.0,305.25 L75.0,305.27 L76.0,305.30 L77.0,305.32 L78.0,305.35 L79.0,305.37 L80.0,305.40 L81.0,305.42 L82.0,305.45 L83.0,305.47 L84.0,305.50 L85.0,305.52 L86.0,305.55 L87.0,305.57 L88.0,305.60 L89.0,305.63 L90.0,305.65 L91.0,305.68 L92.0,305.70 L93.0,305.73 L94.0,305.75 L95.0,305.78 L96.0,305.80 L97.0,305.83 L98.0,305.85 L99.0,305.88 L100.0,305.91 L101.0,305.94 L102.0,305.96 L103.0,305.99 L104.0,306.02 L105.0,306.05 L106.0,306.08 L107.0,306.11 L108.0,306.14 L109.0,306.17 L110.0,306.20 L111.0,306.23 L112.0,306.26 L113.0,306.29 L114.0,306.32 L115.0,306.35 L116.0,306.38 L117.0,306.41 L118.0,306.44 L119.0,306.47 L120.0,306.50 L121.0,306.53 L122.0,306.56 L123.0,306.59 L124.0,306.62 L125.0,306.65 L126.0,306.68 L127.0,306.71 L128.0,306.74 L129.0,306.77 L130.0,306.80 L131.0,306.83 L132.0,306.86 L133.0,306.89 L134.0,306.92 L135.0,306.95 L136.0,306.98 L137.0,307.01 L138.0,307.04 L139.0,307.07 L140.0,307.10 L141.0,307.13 L142.0,307.16 L143.0,307.19 L144.0,307.22 L145.0,307.25 L146.0,307.28 L147.0,307.31 L148.0,307.34 L149.0,307.37 L150.0,307.40 L151.0,307.43 L152.0,307.46 L153.0,307.49 L154.0,307.52 L155.0,307.55 L156.0,307.58 L157.0,307.61 L158.0,307.65 L159.0,307.68 L160.0,307.71 L161.0,307.74 L162.0,307.78 L163.0,307.81 L164.0,307.84 L165.0,307.88 L166.0,307.91 L167.0,307.94 L168.0,307.98 L169.0,308.02 L170.0,308.05 L171.0,308.08 L172.0,308.12 L173.0,308.15 L174.0,308.19 L175.0,308.22 L176.0,308.26 L177.0,308.30 L178.0,308.33 L179.0,308.37 L180.0,308.40 L181.0,308.44 L182.0,308.47 L183.0,308.50 L184.0,308.54 L185.0,308.57 L186.0,308.61 L187.0,308.64 L188.0,308.68 L189.0,308.71 L190.0,308.75 L191.0,308.79 L192.0,308.82 L193.0,308.85 L194.0,308.89 L195.0,308.93 L196.0,308.96 L197.0,309.00 L198.0,309.03 L199.0,309.07 L200.0,309.10 L201.0,309.14 L202.0,309.18 L203.0,309.21 L204.0,309.25 L205.0,309.29 L206.0,309.33 L207.0,309.36 L208.0,309.40 L209.0,309.44 L210.0,309.47 L211.0,309.51 L212.0,309.55 L213.0,309.59 L214.0,309.62 L215.0,309.66 L216.0,309.70 L217.0,309.74 L218.0,309.77 L219.0,309.81 L220.0,309.85 L221.0,309.89 L222.0,309.92 L223.0,309.96 L224.0,310.00 L225.0,310.04 L226.0,310.07 L227.0,310.11 L228.0,310.15 L229.0,310.19 L230.0,310.23 L231.0,310.26 L232.0,310.30 L233.0,310.34 L234.0,310.38 L235.0,310.42 L236.0,310.46 L237.0,310.50 L238.0,310.55 L239.0,310.60 L240.0,310.65 L241.0,310.70 L242.0,310.75 L243.0,310.80 L244.0,310.86 L245.0,310.92 L246.0,310.98 L247.0,311.04 L248.0,311.10 L249.0,311.16 L250.0,311.23 L251.0,311.29" stroke="#6a8f7a" stroke-width="0.7"/>
</g>
<line x1="167.5" y1="102.5" x2="201.5" y2="137" stroke="#111" stroke-width="1.3"/>
<line x1="106.8" y1="203.2" x2="155.8" y2="247.6" stroke="#111" stroke-width="1.3"/>
<line x1="318.6" y1="110.4" x2="261.5" y2="175" stroke="#111" stroke-width="1.3"/>
<line x1="357" y1="181.5" x2="302.9" y2="212.5" stroke="#111" stroke-width="1.3"/>
<line x1="384.4" y1="250.4" x2="348.6" y2="271" stroke="#111" stroke-width="1.3"/>
<g fill="#000"><rect x="51.05" y="4.7" width="1.9" height="363.95"/><rect x="51.05" y="366.65" width="495.2" height="2.0"/><rect x="51.05" y="4.7" width="495.2" height="1.6"/><rect x="544.75" y="4.7" width="1.5" height="363.95"/></g>
<line x1="70.80" y1="367.6" x2="70.80" y2="375.6" stroke="#000" stroke-width="1.8"/>
<line x1="108.75" y1="367.6" x2="108.75" y2="372.3" stroke="#000" stroke-width="1.8"/>
<line x1="146.70" y1="367.6" x2="146.70" y2="375.6" stroke="#000" stroke-width="1.8"/>
<line x1="184.65" y1="367.6" x2="184.65" y2="372.3" stroke="#000" stroke-width="1.8"/>
<line x1="222.60" y1="367.6" x2="222.60" y2="375.6" stroke="#000" stroke-width="1.8"/>
<line x1="260.55" y1="367.6" x2="260.55" y2="372.3" stroke="#000" stroke-width="1.8"/>
<line x1="298.50" y1="367.6" x2="298.50" y2="375.6" stroke="#000" stroke-width="1.8"/>
<line x1="336.45" y1="367.6" x2="336.45" y2="372.3" stroke="#000" stroke-width="1.8"/>
<line x1="374.40" y1="367.6" x2="374.40" y2="375.6" stroke="#000" stroke-width="1.8"/>
<line x1="412.35" y1="367.6" x2="412.35" y2="372.3" stroke="#000" stroke-width="1.8"/>
<line x1="450.30" y1="367.6" x2="450.30" y2="375.6" stroke="#000" stroke-width="1.8"/>
<line x1="488.25" y1="367.6" x2="488.25" y2="372.3" stroke="#000" stroke-width="1.8"/>
<line x1="526.20" y1="367.6" x2="526.20" y2="375.6" stroke="#000" stroke-width="1.8"/>
<text transform="translate(71.10,393) scale(0.935,1)" font-size="16.3" text-anchor="middle" font-family="Liberation Serif, serif" stroke="#111" stroke-width="0.2" fill="#111">536</text>
<text transform="translate(147.00,393) scale(0.935,1)" font-size="16.3" text-anchor="middle" font-family="Liberation Serif, serif" stroke="#111" stroke-width="0.2" fill="#111">534</text>
<text transform="translate(222.90,393) scale(0.935,1)" font-size="16.3" text-anchor="middle" font-family="Liberation Serif, serif" stroke="#111" stroke-width="0.2" fill="#111">532</text>
<text transform="translate(298.80,393) scale(0.935,1)" font-size="16.3" text-anchor="middle" font-family="Liberation Serif, serif" stroke="#111" stroke-width="0.2" fill="#111">530</text>
<text transform="translate(374.70,393) scale(0.935,1)" font-size="16.3" text-anchor="middle" font-family="Liberation Serif, serif" stroke="#111" stroke-width="0.2" fill="#111">528</text>
<text transform="translate(450.60,393) scale(0.935,1)" font-size="16.3" text-anchor="middle" font-family="Liberation Serif, serif" stroke="#111" stroke-width="0.2" fill="#111">526</text>
<text transform="translate(526.50,393) scale(0.935,1)" font-size="16.3" text-anchor="middle" font-family="Liberation Serif, serif" stroke="#111" stroke-width="0.2" fill="#111">524</text>
<text x="218.5" y="424.5" font-size="19.5" font-family="Liberation Serif, serif" stroke="#111" stroke-width="0.2" fill="#111">Binding Energy <tspan x="345.3" font-size="19.2">(eV)</tspan></text>
<text transform="translate(18.2,190.1) rotate(-90)" text-anchor="middle" font-size="19.8" font-family="Liberation Serif, serif" stroke="#111" stroke-width="0.2" fill="#111">Intensity(a.u.)</text>
<text x="11.9" y="34.2" font-size="31" font-family="Liberation Serif, serif" stroke="#111" stroke-width="0.2" fill="#111">(d)</text>
<text x="449" y="26" font-size="19.5" font-family="Liberation Serif, serif" stroke="#111" stroke-width="0.2" fill="#111">M5-TiO<tspan font-size="12.3" dy="6.4">2</tspan><tspan dy="-6.4">(2)</tspan></text>
<text x="449" y="54.6" font-size="19.5" font-family="Liberation Serif, serif" stroke="#111" stroke-width="0.2" fill="#111">---O1s</text>
<text transform="translate(135.8,97.7) scale(1,0.965)" font-size="19" font-family="Liberation Serif, serif" stroke="#111" stroke-width="0.2" fill="#111">-OH</text>
<text x="86.5" y="198.2" font-size="19.3" font-family="Liberation Serif, serif" stroke="#111" stroke-width="0.2" fill="#111">O=C</text>
<text x="319.3" y="107" font-size="19.8" font-family="Liberation Serif, serif" stroke="#111" stroke-width="0.2" fill="#111">O<tspan font-size="11.5" dy="6">v</tspan></text>
<text x="357.5" y="180.1" font-size="19.3" font-family="Liberation Serif, serif" stroke="#111" stroke-width="0.2" fill="#111">O-C</text>
<text transform="translate(384.9,247) scale(1.055,0.97)" font-size="19" font-family="Liberation Serif, serif" stroke="#111" stroke-width="0.2" fill="#111">O-Ti</text>
</svg>
</body></html>
